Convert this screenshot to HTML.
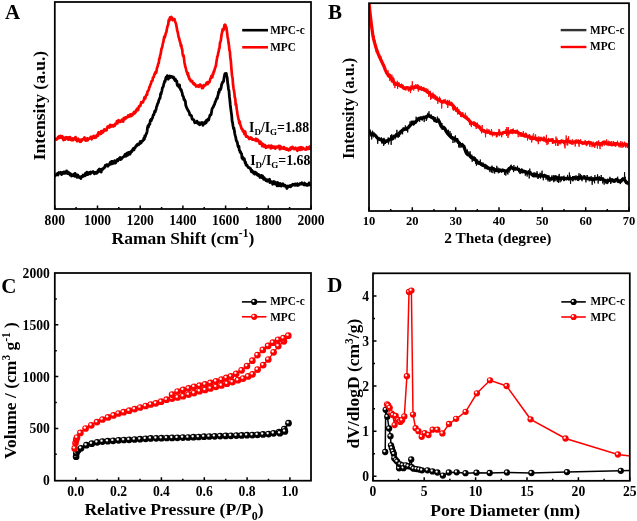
<!DOCTYPE html>
<html><head><meta charset="utf-8"><style>html,body{margin:0;padding:0;background:#fff;width:637px;height:521px;overflow:hidden}svg{display:block;will-change:transform}</style></head>
<body><svg width="637" height="521" viewBox="0 0 637 521" font-family="'Liberation Serif', serif" font-weight="bold">
<defs><radialGradient id="gk" cx="0.37" cy="0.36" r="0.36"><stop offset="0" stop-color="#fff"/><stop offset="0.22" stop-color="#fff"/><stop offset="0.72" stop-color="#000"/><stop offset="1" stop-color="#000"/></radialGradient><radialGradient id="gr" cx="0.37" cy="0.36" r="0.36"><stop offset="0" stop-color="#fff"/><stop offset="0.22" stop-color="#fff"/><stop offset="0.72" stop-color="#f00"/><stop offset="1" stop-color="#f00"/></radialGradient><clipPath id="cA"><rect x="54.8" y="2" width="256.2" height="207"/></clipPath><clipPath id="cB"><rect x="369" y="3.2" width="260" height="207.8"/></clipPath><clipPath id="cC"><rect x="54.8" y="273" width="256.2" height="207.7"/></clipPath><clipPath id="cD"><rect x="373" y="273.3" width="256.8" height="207.5"/></clipPath></defs>
<rect width="637" height="521" fill="#fff"/>
<g clip-path="url(#cA)" fill="none" stroke-linejoin="round">
<path d="M54.8,175.6 L55.2,175.8 L55.7,175.2 L56.2,174.4 L56.6,174.6 L57.1,173.8 L57.5,174.3 L58.0,175.0 L58.4,173.0 L58.9,172.5 L59.3,173.2 L59.8,173.0 L60.2,172.9 L60.7,172.3 L61.1,173.5 L61.6,174.5 L62.0,173.0 L62.5,173.9 L62.9,172.5 L63.4,172.8 L63.8,172.0 L64.3,173.2 L64.7,172.0 L65.2,173.3 L65.6,173.1 L66.1,172.9 L66.5,170.9 L67.0,172.8 L67.4,173.4 L67.9,173.6 L68.3,172.2 L68.8,173.2 L69.2,172.9 L69.7,173.3 L70.1,175.2 L70.6,173.8 L71.0,174.9 L71.5,176.0 L71.9,174.9 L72.4,175.4 L72.8,175.6 L73.3,175.5 L73.7,174.1 L74.2,175.1 L74.6,176.2 L75.1,173.5 L75.5,175.7 L76.0,175.2 L76.4,174.7 L76.9,177.3 L77.3,176.5 L77.8,175.0 L78.2,176.4 L78.7,177.1 L79.1,176.6 L79.6,177.6 L80.0,177.0 L80.5,177.8 L80.9,178.5 L81.4,176.5 L81.8,177.1 L82.3,176.3 L82.7,176.6 L83.2,175.0 L83.6,175.2 L84.1,175.2 L84.5,175.9 L85.0,175.8 L85.4,173.3 L85.9,173.6 L86.3,174.8 L86.8,172.2 L87.2,173.4 L87.7,173.5 L88.1,174.5 L88.6,173.7 L89.0,172.6 L89.5,172.3 L89.9,172.3 L90.4,173.8 L90.8,172.0 L91.3,172.1 L91.7,172.7 L92.2,172.3 L92.6,172.3 L93.1,171.6 L93.5,172.6 L94.0,172.3 L94.4,173.8 L94.9,173.3 L95.3,172.7 L95.8,173.2 L96.2,172.2 L96.7,173.3 L97.1,172.2 L97.6,172.5 L98.0,170.5 L98.5,171.7 L98.9,169.6 L99.4,169.0 L99.8,170.3 L100.3,169.6 L100.7,170.4 L101.2,172.1 L101.6,169.1 L102.1,169.1 L102.5,169.5 L103.0,169.3 L103.4,168.2 L103.9,167.6 L104.3,167.9 L104.8,167.3 L105.2,165.5 L105.7,166.1 L106.1,166.0 L106.6,164.8 L107.0,165.9 L107.5,164.7 L107.9,166.2 L108.4,165.3 L108.8,165.0 L109.3,164.2 L109.7,164.4 L110.2,162.4 L110.6,162.9 L111.1,164.0 L111.5,161.5 L112.0,163.9 L112.4,161.4 L112.9,163.4 L113.3,161.8 L113.8,163.2 L114.2,162.4 L114.7,160.7 L115.1,163.0 L115.6,163.0 L116.0,161.3 L116.5,160.8 L116.9,160.6 L117.4,159.5 L117.8,161.0 L118.3,159.2 L118.7,159.3 L119.2,158.4 L119.6,158.3 L120.1,157.5 L120.5,159.7 L121.0,158.3 L121.4,159.1 L121.9,158.1 L122.3,157.3 L122.8,157.3 L123.2,156.8 L123.7,156.9 L124.1,156.1 L124.6,155.7 L125.0,154.3 L125.5,154.4 L125.9,156.3 L126.4,153.8 L126.8,153.2 L127.3,154.3 L127.7,155.2 L128.2,152.6 L128.6,153.7 L129.1,153.3 L129.5,152.2 L130.0,154.2 L130.4,153.1 L130.9,152.6 L131.3,151.2 L131.8,151.7 L132.2,150.2 L132.7,150.0 L133.1,148.7 L133.6,148.2 L134.0,150.0 L134.5,147.9 L134.9,148.1 L135.4,147.2 L135.8,146.2 L136.3,145.5 L136.7,145.9 L137.2,144.5 L137.6,144.2 L138.1,144.1 L138.5,144.9 L139.0,144.3 L139.4,143.8 L139.9,142.6 L140.3,141.5 L140.8,143.2 L141.2,142.7 L141.7,141.2 L142.1,141.3 L142.6,140.9 L143.0,140.5 L143.5,140.0 L143.9,138.1 L144.4,139.2 L144.8,135.9 L145.3,136.7 L145.7,135.1 L146.2,134.0 L146.6,133.3 L147.1,131.5 L147.5,127.7 L148.0,126.0 L148.4,127.2 L148.9,124.5 L149.3,124.5 L149.8,124.3 L150.2,121.0 L150.7,119.7 L151.1,120.8 L151.6,119.7 L152.0,118.6 L152.5,117.9 L152.9,116.2 L153.4,114.6 L153.8,114.8 L154.3,112.9 L154.7,111.2 L155.2,111.9 L155.6,110.2 L156.1,109.4 L156.5,106.9 L157.0,105.9 L157.4,104.3 L157.9,103.1 L158.3,102.6 L158.8,100.2 L159.2,99.7 L159.7,98.1 L160.1,98.2 L160.6,93.7 L161.0,94.3 L161.5,92.1 L161.9,90.8 L162.4,88.0 L162.8,87.2 L163.3,86.6 L163.7,84.3 L164.2,82.9 L164.6,81.3 L165.1,81.5 L165.5,79.6 L166.0,77.2 L166.4,78.3 L166.9,77.0 L167.3,75.7 L167.8,77.9 L168.2,79.2 L168.7,77.7 L169.1,76.2 L169.6,76.0 L170.0,77.6 L170.5,76.5 L170.9,76.3 L171.4,76.3 L171.8,76.5 L172.3,77.4 L172.7,77.6 L173.2,77.7 L173.6,77.1 L174.1,79.1 L174.5,78.6 L175.0,80.7 L175.4,79.2 L175.9,80.7 L176.3,81.5 L176.8,81.1 L177.2,84.9 L177.7,85.6 L178.1,84.7 L178.6,86.5 L179.0,86.9 L179.5,84.9 L179.9,88.3 L180.4,88.8 L180.8,89.9 L181.3,89.9 L181.7,91.7 L182.2,93.0 L182.6,95.5 L183.1,96.1 L183.5,97.1 L184.0,99.8 L184.4,99.3 L184.9,100.8 L185.3,101.0 L185.8,105.5 L186.2,106.4 L186.7,107.7 L187.1,108.7 L187.6,109.3 L188.0,110.4 L188.5,110.9 L188.9,111.8 L189.4,112.9 L189.8,115.0 L190.3,114.9 L190.7,115.1 L191.2,115.4 L191.6,116.2 L192.1,119.0 L192.5,118.9 L193.0,119.4 L193.4,119.8 L193.9,119.9 L194.3,121.4 L194.8,122.7 L195.2,121.9 L195.7,122.2 L196.1,122.3 L196.6,122.7 L197.0,121.2 L197.5,122.6 L197.9,122.2 L198.4,124.0 L198.8,122.6 L199.3,123.9 L199.7,124.8 L200.2,123.2 L200.6,122.9 L201.1,123.6 L201.5,123.4 L202.0,122.5 L202.4,123.8 L202.9,125.3 L203.3,123.3 L203.8,123.5 L204.2,122.7 L204.7,123.8 L205.1,121.9 L205.6,121.5 L206.0,122.9 L206.5,120.2 L206.9,121.3 L207.4,121.0 L207.8,119.3 L208.3,119.1 L208.7,119.9 L209.2,117.5 L209.6,116.5 L210.1,114.9 L210.5,114.9 L211.0,114.8 L211.4,112.9 L211.9,109.7 L212.3,108.4 L212.8,107.5 L213.2,107.2 L213.7,105.7 L214.1,105.1 L214.6,104.1 L215.0,102.5 L215.5,101.5 L215.9,100.5 L216.4,99.0 L216.8,98.3 L217.3,98.4 L217.7,96.1 L218.2,94.5 L218.6,91.8 L219.1,92.6 L219.5,89.5 L220.0,88.9 L220.4,89.8 L220.9,88.5 L221.3,86.5 L221.8,83.8 L222.2,83.6 L222.7,82.0 L223.1,81.6 L223.6,81.4 L224.0,77.9 L224.5,75.4 L224.9,73.8 L225.4,74.0 L225.8,73.6 L226.3,73.4 L226.7,76.2 L227.2,77.5 L227.6,82.5 L228.1,85.7 L228.5,89.0 L229.0,91.1 L229.4,96.4 L229.9,100.6 L230.3,105.0 L230.8,109.1 L231.2,112.1 L231.7,115.7 L232.1,121.0 L232.6,122.9 L233.0,125.7 L233.5,128.5 L233.9,128.1 L234.4,130.9 L234.8,133.7 L235.3,135.9 L235.7,137.1 L236.2,140.3 L236.6,141.3 L237.1,141.7 L237.5,143.4 L238.0,146.3 L238.4,147.2 L238.9,146.2 L239.3,150.2 L239.8,150.6 L240.2,152.5 L240.7,152.1 L241.1,153.4 L241.6,153.8 L242.0,158.2 L242.5,156.8 L242.9,159.2 L243.4,158.1 L243.8,159.6 L244.3,158.8 L244.7,160.8 L245.2,163.1 L245.6,162.1 L246.1,165.2 L246.5,165.5 L247.0,165.1 L247.4,166.2 L247.9,166.8 L248.3,167.5 L248.8,167.4 L249.2,167.5 L249.7,168.4 L250.1,168.3 L250.6,168.7 L251.0,170.4 L251.5,171.9 L251.9,170.3 L252.4,172.1 L252.8,171.8 L253.3,171.7 L253.7,173.4 L254.2,172.2 L254.6,174.1 L255.1,172.1 L255.5,173.4 L256.0,173.1 L256.4,172.9 L256.9,174.5 L257.3,174.2 L257.8,175.3 L258.2,175.2 L258.7,174.6 L259.1,175.9 L259.6,176.3 L260.0,177.4 L260.5,175.8 L260.9,176.7 L261.4,175.4 L261.8,177.6 L262.3,176.3 L262.7,176.0 L263.2,178.0 L263.6,179.4 L264.1,177.5 L264.5,178.4 L265.0,179.0 L265.4,179.0 L265.9,180.6 L266.3,179.7 L266.8,179.9 L267.2,181.2 L267.7,180.0 L268.1,181.1 L268.6,179.9 L269.0,179.7 L269.5,179.2 L269.9,182.7 L270.4,181.0 L270.8,181.8 L271.3,181.9 L271.7,182.4 L272.2,182.5 L272.6,184.3 L273.1,181.8 L273.5,181.4 L274.0,181.9 L274.4,181.8 L274.9,183.8 L275.3,184.1 L275.8,182.8 L276.2,182.8 L276.7,184.0 L277.1,185.9 L277.6,182.3 L278.0,185.3 L278.5,183.9 L278.9,185.8 L279.4,183.8 L279.8,184.5 L280.3,183.4 L280.7,183.9 L281.2,186.2 L281.6,185.8 L282.1,184.8 L282.5,184.5 L283.0,183.8 L283.4,185.3 L283.9,185.8 L284.3,185.9 L284.8,186.1 L285.2,185.3 L285.7,186.4 L286.1,186.5 L286.6,187.8 L287.0,188.4 L287.5,186.7 L287.9,186.1 L288.4,186.8 L288.8,186.2 L289.3,186.1 L289.7,186.5 L290.2,185.5 L290.6,186.7 L291.1,185.8 L291.5,185.9 L292.0,185.3 L292.4,184.6 L292.9,184.2 L293.3,184.8 L293.8,184.5 L294.2,185.2 L294.7,185.0 L295.1,183.9 L295.6,185.3 L296.0,184.2 L296.5,184.9 L296.9,185.3 L297.4,183.6 L297.8,185.5 L298.3,185.3 L298.7,184.8 L299.2,184.4 L299.6,184.2 L300.1,183.4 L300.5,183.9 L301.0,183.5 L301.4,184.0 L301.9,182.8 L302.3,184.1 L302.8,184.1 L303.2,184.0 L303.7,183.8 L304.1,184.9 L304.6,183.0 L305.0,185.0 L305.5,184.9 L305.9,185.0 L306.4,185.2 L306.8,184.2 L307.3,184.5 L307.7,185.3 L308.2,185.0 L308.6,184.6 L309.1,182.9 L309.5,184.6 L310.0,185.0 L310.4,184.7 L310.9,183.9" stroke="#000" stroke-width="2.8"/>
<path d="M54.8,140.0 L55.2,138.7 L55.7,139.2 L56.2,139.4 L56.6,139.6 L57.1,138.5 L57.5,138.9 L58.0,137.2 L58.4,137.3 L58.9,136.3 L59.3,137.9 L59.8,136.7 L60.2,136.0 L60.7,136.5 L61.1,136.8 L61.6,137.9 L62.0,136.0 L62.5,136.7 L62.9,137.5 L63.4,140.1 L63.8,138.7 L64.3,137.7 L64.7,138.4 L65.2,139.5 L65.6,137.4 L66.1,137.2 L66.5,138.7 L67.0,138.0 L67.4,138.3 L67.9,137.3 L68.3,139.7 L68.8,139.7 L69.2,138.9 L69.7,139.3 L70.1,137.1 L70.6,139.8 L71.0,139.3 L71.5,140.0 L71.9,140.4 L72.4,139.5 L72.8,138.3 L73.3,140.1 L73.7,139.0 L74.2,139.2 L74.6,138.8 L75.1,138.9 L75.5,137.0 L76.0,140.1 L76.4,139.2 L76.9,140.1 L77.3,141.2 L77.8,139.8 L78.2,138.7 L78.7,140.0 L79.1,140.2 L79.6,141.1 L80.0,141.8 L80.5,139.8 L80.9,141.6 L81.4,139.6 L81.8,140.8 L82.3,140.0 L82.7,139.4 L83.2,139.3 L83.6,138.7 L84.1,138.4 L84.5,137.4 L85.0,138.8 L85.4,140.5 L85.9,140.6 L86.3,140.1 L86.8,139.6 L87.2,138.4 L87.7,140.3 L88.1,138.9 L88.6,138.8 L89.0,138.5 L89.5,138.7 L89.9,138.0 L90.4,138.0 L90.8,136.8 L91.3,137.1 L91.7,139.3 L92.2,137.0 L92.6,136.7 L93.1,137.4 L93.5,137.6 L94.0,136.0 L94.4,136.9 L94.9,137.8 L95.3,137.0 L95.8,136.5 L96.2,137.4 L96.7,135.0 L97.1,135.2 L97.6,134.3 L98.0,135.7 L98.5,132.3 L98.9,133.1 L99.4,132.9 L99.8,133.8 L100.3,133.5 L100.7,134.0 L101.2,131.2 L101.6,133.1 L102.1,132.0 L102.5,131.5 L103.0,132.4 L103.4,130.9 L103.9,129.7 L104.3,130.9 L104.8,129.5 L105.2,129.8 L105.7,130.2 L106.1,129.6 L106.6,130.2 L107.0,128.2 L107.5,126.6 L107.9,127.0 L108.4,126.7 L108.8,126.3 L109.3,127.6 L109.7,126.4 L110.2,124.8 L110.6,126.9 L111.1,125.7 L111.5,125.8 L112.0,125.3 L112.4,125.7 L112.9,125.2 L113.3,126.5 L113.8,125.9 L114.2,126.0 L114.7,125.9 L115.1,123.8 L115.6,124.4 L116.0,123.6 L116.5,123.3 L116.9,121.2 L117.4,123.4 L117.8,121.8 L118.3,120.6 L118.7,120.3 L119.2,121.7 L119.6,121.9 L120.1,121.3 L120.5,121.7 L121.0,120.7 L121.4,121.3 L121.9,119.7 L122.3,119.9 L122.8,120.4 L123.2,121.6 L123.7,118.1 L124.1,118.4 L124.6,117.9 L125.0,119.2 L125.5,117.3 L125.9,117.8 L126.4,118.1 L126.8,117.0 L127.3,116.9 L127.7,117.1 L128.2,115.3 L128.6,115.7 L129.1,116.3 L129.5,116.5 L130.0,116.0 L130.4,114.3 L130.9,115.2 L131.3,116.1 L131.8,115.6 L132.2,114.7 L132.7,113.6 L133.1,114.6 L133.6,113.0 L134.0,112.0 L134.5,111.8 L134.9,113.3 L135.4,111.7 L135.8,112.0 L136.3,109.9 L136.7,110.6 L137.2,108.6 L137.6,108.4 L138.1,110.1 L138.5,107.9 L139.0,106.2 L139.4,106.0 L139.9,105.8 L140.3,106.0 L140.8,103.9 L141.2,102.2 L141.7,102.9 L142.1,102.5 L142.6,101.9 L143.0,102.2 L143.5,100.5 L143.9,100.0 L144.4,97.4 L144.8,98.3 L145.3,98.6 L145.7,96.6 L146.2,95.3 L146.6,94.4 L147.1,94.9 L147.5,91.4 L148.0,91.1 L148.4,90.4 L148.9,89.5 L149.3,87.2 L149.8,86.7 L150.2,85.0 L150.7,84.3 L151.1,83.0 L151.6,81.0 L152.0,81.0 L152.5,80.6 L152.9,77.8 L153.4,77.3 L153.8,77.0 L154.3,74.4 L154.7,74.5 L155.2,72.3 L155.6,73.1 L156.1,72.8 L156.5,71.2 L157.0,67.8 L157.4,67.2 L157.9,65.1 L158.3,63.5 L158.8,63.0 L159.2,58.6 L159.7,58.6 L160.1,55.4 L160.6,54.5 L161.0,51.5 L161.5,48.8 L161.9,47.7 L162.4,46.2 L162.8,43.6 L163.3,42.2 L163.7,39.7 L164.2,36.6 L164.6,37.9 L165.1,36.3 L165.5,34.4 L166.0,32.7 L166.4,32.0 L166.9,29.0 L167.3,27.0 L167.8,25.4 L168.2,24.5 L168.7,20.2 L169.1,21.2 L169.6,18.6 L170.0,17.5 L170.5,19.3 L170.9,18.0 L171.4,17.0 L171.8,18.2 L172.3,19.6 L172.7,20.1 L173.2,18.8 L173.6,19.6 L174.1,20.0 L174.5,19.2 L175.0,21.1 L175.4,22.2 L175.9,23.4 L176.3,25.3 L176.8,28.0 L177.2,30.3 L177.7,32.0 L178.1,34.1 L178.6,37.1 L179.0,37.8 L179.5,39.8 L179.9,41.6 L180.4,42.7 L180.8,45.9 L181.3,44.9 L181.7,48.3 L182.2,49.4 L182.6,53.7 L183.1,56.0 L183.5,55.2 L184.0,58.4 L184.4,62.2 L184.9,64.6 L185.3,66.7 L185.8,67.9 L186.2,70.1 L186.7,71.8 L187.1,72.5 L187.6,74.8 L188.0,73.1 L188.5,76.8 L188.9,76.4 L189.4,79.3 L189.8,79.2 L190.3,79.5 L190.7,81.3 L191.2,80.7 L191.6,81.1 L192.1,80.8 L192.5,82.4 L193.0,83.2 L193.4,83.9 L193.9,83.2 L194.3,84.6 L194.8,84.1 L195.2,84.4 L195.7,85.5 L196.1,86.5 L196.6,85.7 L197.0,86.1 L197.5,86.3 L197.9,86.4 L198.4,85.3 L198.8,86.8 L199.3,85.2 L199.7,85.8 L200.2,84.6 L200.6,85.9 L201.1,86.1 L201.5,85.7 L202.0,88.1 L202.4,86.7 L202.9,87.9 L203.3,87.0 L203.8,85.2 L204.2,85.2 L204.7,85.7 L205.1,85.2 L205.6,85.0 L206.0,84.5 L206.5,82.9 L206.9,84.1 L207.4,82.1 L207.8,84.1 L208.3,82.7 L208.7,82.3 L209.2,82.2 L209.6,82.0 L210.1,79.6 L210.5,78.4 L211.0,78.0 L211.4,76.1 L211.9,76.0 L212.3,77.3 L212.8,73.9 L213.2,74.4 L213.7,71.4 L214.1,71.7 L214.6,69.7 L215.0,68.2 L215.5,66.8 L215.9,65.7 L216.4,62.1 L216.8,59.8 L217.3,56.6 L217.7,55.9 L218.2,53.0 L218.6,51.8 L219.1,48.8 L219.5,48.2 L220.0,42.6 L220.4,41.7 L220.9,40.2 L221.3,36.5 L221.8,33.6 L222.2,31.9 L222.7,29.2 L223.1,29.2 L223.6,30.1 L224.0,27.8 L224.5,25.0 L224.9,24.6 L225.4,25.0 L225.8,27.1 L226.3,27.3 L226.7,29.8 L227.2,33.6 L227.6,36.7 L228.1,39.4 L228.5,42.8 L229.0,45.9 L229.4,49.9 L229.9,51.7 L230.3,57.8 L230.8,60.5 L231.2,66.0 L231.7,72.0 L232.1,76.0 L232.6,78.2 L233.0,84.1 L233.5,88.2 L233.9,90.1 L234.4,93.3 L234.8,97.3 L235.3,99.0 L235.7,104.8 L236.2,104.2 L236.6,108.1 L237.1,111.4 L237.5,114.0 L238.0,116.7 L238.4,118.9 L238.9,120.3 L239.3,123.1 L239.8,121.5 L240.2,124.8 L240.7,125.5 L241.1,127.5 L241.6,128.7 L242.0,128.6 L242.5,129.6 L242.9,131.5 L243.4,131.5 L243.8,130.9 L244.3,133.7 L244.7,134.4 L245.2,131.7 L245.6,134.0 L246.1,136.7 L246.5,136.0 L247.0,136.2 L247.4,136.5 L247.9,136.8 L248.3,137.5 L248.8,137.6 L249.2,139.0 L249.7,138.1 L250.1,138.2 L250.6,137.5 L251.0,138.6 L251.5,137.8 L251.9,138.5 L252.4,139.7 L252.8,139.2 L253.3,139.5 L253.7,139.6 L254.2,139.5 L254.6,139.5 L255.1,139.4 L255.5,140.4 L256.0,138.7 L256.4,141.0 L256.9,139.9 L257.3,139.4 L257.8,139.9 L258.2,140.2 L258.7,141.5 L259.1,141.3 L259.6,143.6 L260.0,142.5 L260.5,141.7 L260.9,143.6 L261.4,142.9 L261.8,145.0 L262.3,146.2 L262.7,145.9 L263.2,144.1 L263.6,144.6 L264.1,146.8 L264.5,145.4 L265.0,145.2 L265.4,146.3 L265.9,147.8 L266.3,147.0 L266.8,146.2 L267.2,146.7 L267.7,147.1 L268.1,146.2 L268.6,145.8 L269.0,146.9 L269.5,145.9 L269.9,146.6 L270.4,146.6 L270.8,148.5 L271.3,145.5 L271.7,146.1 L272.2,146.2 L272.6,146.9 L273.1,147.9 L273.5,146.9 L274.0,147.0 L274.4,146.6 L274.9,147.4 L275.3,148.6 L275.8,148.0 L276.2,146.7 L276.7,147.0 L277.1,147.1 L277.6,147.4 L278.0,146.5 L278.5,147.0 L278.9,145.8 L279.4,146.7 L279.8,149.4 L280.3,146.1 L280.7,147.9 L281.2,148.5 L281.6,148.0 L282.1,147.7 L282.5,148.4 L283.0,148.6 L283.4,148.6 L283.9,147.1 L284.3,148.8 L284.8,148.2 L285.2,148.5 L285.7,149.2 L286.1,149.5 L286.6,149.7 L287.0,148.5 L287.5,149.7 L287.9,150.0 L288.4,150.0 L288.8,150.3 L289.3,148.9 L289.7,148.9 L290.2,149.8 L290.6,147.7 L291.1,149.0 L291.5,148.2 L292.0,148.3 L292.4,146.9 L292.9,147.6 L293.3,148.2 L293.8,149.0 L294.2,149.1 L294.7,148.2 L295.1,148.2 L295.6,147.8 L296.0,149.1 L296.5,148.7 L296.9,149.7 L297.4,150.8 L297.8,149.2 L298.3,147.8 L298.7,148.3 L299.2,147.6 L299.6,147.7 L300.1,149.9 L300.5,148.8 L301.0,147.2 L301.4,149.1 L301.9,149.5 L302.3,148.0 L302.8,147.7 L303.2,147.9 L303.7,148.5 L304.1,148.8 L304.6,149.3 L305.0,149.4 L305.5,149.4 L305.9,149.7 L306.4,149.1 L306.8,147.2 L307.3,148.4 L307.7,148.7 L308.2,147.9 L308.6,148.8 L309.1,147.4 L309.5,146.7 L310.0,148.7 L310.4,147.9 L310.9,147.5" stroke="#f00" stroke-width="2.7"/>
</g>
<rect x="54.8" y="2" width="256.2" height="207" fill="none" stroke="#000" stroke-width="1.75"/>
<path d="M54.8,209 V205.5 M76.1,209 V207 M97.5,209 V205.5 M118.8,209 V207 M140.2,209 V205.5 M161.6,209 V207 M182.9,209 V205.5 M204.2,209 V207 M225.6,209 V205.5 M246.9,209 V207 M268.3,209 V205.5 M289.6,209 V207 M311.0,209 V205.5" stroke="#000" stroke-width="1.5"/>
<text x="54.8" y="224.9" font-size="13.6" text-anchor="middle">800</text>
<text x="97.5" y="224.9" font-size="13.6" text-anchor="middle">1000</text>
<text x="140.2" y="224.9" font-size="13.6" text-anchor="middle">1200</text>
<text x="182.9" y="224.9" font-size="13.6" text-anchor="middle">1400</text>
<text x="225.6" y="224.9" font-size="13.6" text-anchor="middle">1600</text>
<text x="268.3" y="224.9" font-size="13.6" text-anchor="middle">1800</text>
<text x="311.0" y="224.9" font-size="13.6" text-anchor="middle">2000</text>
<text x="5" y="18.7" font-size="21">A</text>
<text transform="translate(45,105.5) rotate(-90)" font-size="17.5" text-anchor="middle">Intensity (a.u.)</text>
<text x="111.5" y="243.8" font-size="17.5">Raman Shift (cm<tspan dy="-6.5" font-size="11.5">-1</tspan><tspan dy="6.5">)</tspan></text>
<path d="M242.2,30.2 H268" stroke="#000" stroke-width="2.6"/>
<path d="M242.2,47.3 H268" stroke="#f00" stroke-width="2.6"/>
<text transform="translate(270.2,33.9) scale(1,1.13)" font-size="11.3">MPC-c</text>
<text transform="translate(270.2,50.5) scale(1,1.13)" font-size="11.3">MPC</text>
<text x="249" y="132.1" font-size="13.8">I<tspan font-size="9" dy="3">D</tspan><tspan dy="-3">/I</tspan><tspan font-size="9" dy="3">G</tspan><tspan dy="-3">=1.88</tspan></text>
<text x="250.2" y="164.7" font-size="13.8">I<tspan font-size="9" dy="3">D</tspan><tspan dy="-3">/I</tspan><tspan font-size="9" dy="3">G</tspan><tspan dy="-3">=1.68</tspan></text>
<g clip-path="url(#cB)" fill="none" stroke-linejoin="miter">
<path d="M369.0,130.7 L369.9,132.4 L370.8,133.8 L371.7,134.6 L372.6,134.7 L373.5,134.5 L374.4,134.8 L375.3,135.5 L376.2,136.5 L377.1,137.6 L378.0,138.5 L378.9,139.2 L379.8,139.5 L380.7,139.7 L381.6,139.8 L382.5,139.9 L383.4,140.1 L384.3,140.6 L385.2,141.1 L386.1,141.5 L387.0,141.3 L387.9,140.7 L388.8,139.9 L389.7,139.3 L390.6,138.9 L391.5,138.4 L392.4,137.7 L393.3,137.0 L394.2,136.4 L395.1,136.0 L396.0,135.7 L396.9,135.4 L397.8,134.9 L398.7,134.1 L399.6,133.1 L400.5,132.1 L401.4,131.1 L402.3,130.3 L403.2,129.8 L404.1,129.4 L405.0,129.1 L405.9,128.8 L406.8,128.4 L407.7,127.9 L408.6,127.2 L409.5,126.2 L410.4,125.2 L411.3,124.2 L412.2,123.5 L413.1,123.1 L414.0,122.7 L414.9,122.3 L415.8,121.7 L416.7,120.9 L417.6,119.8 L418.5,118.9 L419.4,118.4 L420.3,118.3 L421.2,118.3 L422.1,118.2 L423.0,118.0 L423.9,117.6 L424.8,117.3 L425.7,116.9 L426.6,116.5 L427.5,116.1 L428.4,115.8 L429.3,115.9 L430.2,116.4 L431.1,117.0 L432.0,117.5 L432.9,117.9 L433.8,118.6 L434.7,119.7 L435.6,120.8 L436.5,121.3 L437.4,121.1 L438.3,120.9 L439.2,121.6 L440.1,123.7 L441.0,126.0 L441.9,127.2 L442.8,127.4 L443.7,127.4 L444.6,128.2 L445.5,129.8 L446.4,131.6 L447.3,133.0 L448.2,134.1 L449.1,135.1 L450.0,136.1 L450.9,136.9 L451.8,137.6 L452.7,138.2 L453.6,138.5 L454.5,138.8 L455.4,139.0 L456.3,139.5 L457.2,140.5 L458.1,141.8 L459.0,143.0 L459.9,144.0 L460.8,144.6 L461.7,144.9 L462.6,145.2 L463.5,146.0 L464.4,147.8 L465.3,150.3 L466.2,152.6 L467.1,153.9 L468.0,154.3 L468.9,154.7 L469.8,155.7 L470.7,157.0 L471.6,157.8 L472.5,158.0 L473.4,157.9 L474.3,158.3 L475.2,159.4 L476.1,160.7 L477.0,161.7 L477.9,162.3 L478.8,162.7 L479.7,163.3 L480.6,164.0 L481.5,164.6 L482.4,165.1 L483.3,165.4 L484.2,165.7 L485.1,166.0 L486.0,166.3 L486.9,166.9 L487.8,167.6 L488.7,168.2 L489.6,168.4 L490.5,168.3 L491.4,168.2 L492.3,168.3 L493.2,168.7 L494.1,169.3 L495.0,170.0 L495.9,170.5 L496.8,170.6 L497.7,170.4 L498.6,170.1 L499.5,170.0 L500.4,170.2 L501.3,170.5 L502.2,170.5 L503.1,170.4 L504.0,170.5 L504.9,170.8 L505.8,171.0 L506.7,170.9 L507.6,170.3 L508.5,169.5 L509.4,168.6 L510.3,167.9 L511.2,167.7 L512.1,167.9 L513.0,168.5 L513.9,169.0 L514.8,169.1 L515.7,168.9 L516.6,168.8 L517.5,169.0 L518.4,169.5 L519.3,170.2 L520.2,171.0 L521.1,171.6 L522.0,171.7 L522.9,171.5 L523.8,171.3 L524.7,171.6 L525.6,172.2 L526.5,172.7 L527.4,172.8 L528.3,172.7 L529.2,172.8 L530.1,173.2 L531.0,173.8 L531.9,174.6 L532.8,175.3 L533.7,175.7 L534.6,175.6 L535.5,175.1 L536.4,174.8 L537.3,175.0 L538.2,175.6 L539.1,175.9 L540.0,176.0 L540.9,175.8 L541.8,175.7 L542.7,175.8 L543.6,175.9 L544.5,176.0 L545.4,176.0 L546.3,176.2 L547.2,176.7 L548.1,177.5 L549.0,178.2 L549.9,178.8 L550.8,179.0 L551.7,179.0 L552.6,178.8 L553.5,178.4 L554.4,178.0 L555.3,177.6 L556.2,177.5 L557.1,177.8 L558.0,178.2 L558.9,178.5 L559.8,178.4 L560.7,178.1 L561.6,177.9 L562.5,178.1 L563.4,178.5 L564.3,178.7 L565.2,178.6 L566.1,178.4 L567.0,178.3 L567.9,178.2 L568.8,178.3 L569.7,178.4 L570.6,178.6 L571.5,178.5 L572.4,178.3 L573.3,178.0 L574.2,177.8 L575.1,177.9 L576.0,178.0 L576.9,177.9 L577.8,177.6 L578.7,177.3 L579.6,177.4 L580.5,177.9 L581.4,178.2 L582.3,178.1 L583.2,177.9 L584.1,177.8 L585.0,178.1 L585.9,178.5 L586.8,178.7 L587.7,178.6 L588.6,178.4 L589.5,178.4 L590.4,178.7 L591.3,179.1 L592.2,179.4 L593.1,179.6 L594.0,179.5 L594.9,179.1 L595.8,178.7 L596.7,178.5 L597.6,178.6 L598.5,178.9 L599.4,179.0 L600.3,179.0 L601.2,179.0 L602.1,179.2 L603.0,179.6 L603.9,180.1 L604.8,180.5 L605.7,180.8 L606.6,180.9 L607.5,180.9 L608.4,180.7 L609.3,180.4 L610.2,180.0 L611.1,179.8 L612.0,180.2 L612.9,180.8 L613.8,181.2 L614.7,180.8 L615.6,179.9 L616.5,179.5 L617.4,180.0 L618.3,180.9 L619.2,181.5 L620.1,181.4 L621.0,180.8 L621.9,179.9 L622.8,179.2 L623.7,179.1 L624.6,179.9 L625.5,181.3 L626.4,182.5 L627.3,183.0 L628.2,182.7" stroke="#000" stroke-width="3.3"/>
<path d="M369.0,131.1 L369.3,130.9 L369.6,132.1 L369.9,129.3 L370.2,131.5 L370.5,134.4 L370.8,134.3 L371.1,136.7 L371.4,134.6 L371.7,139.5 L372.0,133.2 L372.3,135.3 L372.6,130.7 L372.9,132.0 L373.2,137.4 L373.5,132.6 L373.8,135.7 L374.1,134.5 L374.4,132.6 L374.7,134.2 L375.0,134.1 L375.3,134.5 L375.6,137.4 L375.9,137.5 L376.2,135.3 L376.5,135.0 L376.8,137.9 L377.1,137.4 L377.4,140.1 L377.7,143.8 L378.0,140.3 L378.3,138.7 L378.6,138.6 L378.9,137.4 L379.2,137.4 L379.5,137.3 L379.8,138.7 L380.1,138.7 L380.4,141.2 L380.7,138.9 L381.0,139.3 L381.3,137.2 L381.6,143.2 L381.9,140.9 L382.2,143.6 L382.5,141.6 L382.8,143.1 L383.1,139.5 L383.4,141.6 L383.7,145.9 L384.0,137.8 L384.3,143.0 L384.6,144.3 L384.9,141.8 L385.2,142.7 L385.5,143.9 L385.8,140.0 L386.1,142.3 L386.4,139.6 L386.7,140.0 L387.0,140.0 L387.3,140.8 L387.6,141.2 L387.9,141.7 L388.2,137.4 L388.5,144.4 L388.8,142.4 L389.1,141.3 L389.4,138.7 L389.7,139.1 L390.0,140.4 L390.3,140.0 L390.6,135.3 L390.9,140.4 L391.2,144.9 L391.5,134.4 L391.8,140.3 L392.1,138.7 L392.4,137.5 L392.7,140.4 L393.0,134.7 L393.3,137.3 L393.6,139.9 L393.9,136.1 L394.2,135.5 L394.5,136.5 L394.8,135.1 L395.1,139.3 L395.4,133.9 L395.7,137.7 L396.0,133.0 L396.3,137.1 L396.6,135.3 L396.9,129.8 L397.2,135.2 L397.5,132.8 L397.8,133.9 L398.1,137.9 L398.4,132.0 L398.7,131.8 L399.0,136.9 L399.3,133.7 L399.6,136.4 L399.9,133.5 L400.2,130.5 L400.5,131.9 L400.8,134.4 L401.1,133.4 L401.4,131.1 L401.7,130.9 L402.0,130.3 L402.3,129.1 L402.6,134.3 L402.9,129.9 L403.2,127.3 L403.5,128.6 L403.8,131.1 L404.1,130.8 L404.4,129.0 L404.7,127.7 L405.0,129.1 L405.3,125.4 L405.6,126.1 L405.9,130.5 L406.2,127.6 L406.5,129.4 L406.8,131.0 L407.1,129.7 L407.4,128.1 L407.7,132.5 L408.0,129.1 L408.3,126.7 L408.6,128.7 L408.9,127.8 L409.2,124.7 L409.5,126.4 L409.8,125.5 L410.1,121.3 L410.4,124.8 L410.7,124.2 L411.0,123.6 L411.3,120.7 L411.6,123.2 L411.9,123.6 L412.2,123.8 L412.5,120.9 L412.8,124.6 L413.1,120.5 L413.4,122.5 L413.7,125.7 L414.0,121.2 L414.3,121.5 L414.6,124.8 L414.9,121.5 L415.2,121.5 L415.5,122.4 L415.8,124.0 L416.1,116.7 L416.4,119.4 L416.7,118.7 L417.0,118.2 L417.3,118.3 L417.6,118.0 L417.9,120.2 L418.2,117.3 L418.5,119.2 L418.8,119.5 L419.1,116.9 L419.4,118.7 L419.7,121.8 L420.0,119.0 L420.3,116.9 L420.6,118.2 L420.9,116.3 L421.2,118.9 L421.5,120.2 L421.8,116.5 L422.1,117.8 L422.4,120.5 L422.7,117.0 L423.0,118.4 L423.3,115.7 L423.6,116.0 L423.9,116.5 L424.2,122.1 L424.5,116.5 L424.8,116.1 L425.1,115.9 L425.4,116.7 L425.7,118.3 L426.0,117.2 L426.3,121.0 L426.6,117.0 L426.9,119.4 L427.2,116.8 L427.5,117.4 L427.8,112.9 L428.1,115.6 L428.4,115.6 L428.7,115.3 L429.0,111.3 L429.3,117.7 L429.6,115.2 L429.9,115.3 L430.2,115.8 L430.5,116.1 L430.8,117.7 L431.1,114.4 L431.4,115.3 L431.7,118.0 L432.0,117.8 L432.3,116.9 L432.6,116.6 L432.9,116.2 L433.2,118.0 L433.5,120.8 L433.8,116.4 L434.1,122.1 L434.4,121.1 L434.7,118.7 L435.0,121.7 L435.3,117.4 L435.6,117.1 L435.9,118.3 L436.2,120.4 L436.5,120.6 L436.8,120.2 L437.1,121.4 L437.4,116.6 L437.7,122.0 L438.0,117.9 L438.3,119.5 L438.6,120.1 L438.9,118.8 L439.2,118.7 L439.5,120.1 L439.8,122.9 L440.1,124.9 L440.4,125.7 L440.7,123.2 L441.0,124.3 L441.3,124.6 L441.6,127.9 L441.9,123.0 L442.2,130.0 L442.5,126.4 L442.8,125.7 L443.1,128.1 L443.4,129.5 L443.7,128.1 L444.0,129.7 L444.3,128.1 L444.6,130.8 L444.9,131.3 L445.2,129.0 L445.5,132.8 L445.8,130.7 L446.1,131.2 L446.4,129.6 L446.7,131.5 L447.0,134.2 L447.3,130.3 L447.6,134.8 L447.9,134.5 L448.2,134.7 L448.5,129.8 L448.8,134.6 L449.1,136.5 L449.4,133.8 L449.7,135.9 L450.0,131.1 L450.3,137.8 L450.6,135.2 L450.9,138.7 L451.2,133.3 L451.5,138.8 L451.8,137.1 L452.1,139.5 L452.4,136.0 L452.7,136.9 L453.0,143.0 L453.3,136.7 L453.6,137.1 L453.9,138.1 L454.2,136.6 L454.5,141.3 L454.8,142.5 L455.1,137.4 L455.4,135.4 L455.7,141.6 L456.0,141.6 L456.3,141.2 L456.6,142.2 L456.9,138.3 L457.2,140.1 L457.5,138.0 L457.8,138.4 L458.1,143.8 L458.4,140.8 L458.7,147.4 L459.0,143.2 L459.3,142.0 L459.6,145.4 L459.9,147.8 L460.2,145.2 L460.5,141.9 L460.8,145.4 L461.1,147.6 L461.4,143.8 L461.7,143.3 L462.0,147.1 L462.3,145.4 L462.6,142.9 L462.9,144.6 L463.2,144.1 L463.5,146.7 L463.8,146.7 L464.1,149.5 L464.4,149.3 L464.7,145.3 L465.0,150.3 L465.3,152.2 L465.6,152.1 L465.9,154.1 L466.2,151.4 L466.5,151.2 L466.8,155.5 L467.1,151.6 L467.4,149.5 L467.7,156.3 L468.0,152.8 L468.3,153.7 L468.6,151.5 L468.9,151.9 L469.2,152.5 L469.5,154.5 L469.8,156.4 L470.1,151.3 L470.4,158.1 L470.7,154.5 L471.0,155.1 L471.3,159.1 L471.6,157.7 L471.9,154.7 L472.2,161.9 L472.5,156.2 L472.8,158.4 L473.1,158.3 L473.4,160.8 L473.7,157.0 L474.0,160.2 L474.3,156.7 L474.6,160.9 L474.9,157.3 L475.2,158.6 L475.5,163.8 L475.8,160.9 L476.1,160.9 L476.4,165.8 L476.7,162.2 L477.0,160.0 L477.3,163.5 L477.6,159.6 L477.9,164.7 L478.2,165.0 L478.5,161.4 L478.8,161.4 L479.1,163.3 L479.4,163.1 L479.7,161.3 L480.0,164.7 L480.3,159.5 L480.6,163.1 L480.9,163.4 L481.2,163.8 L481.5,165.3 L481.8,162.2 L482.1,166.2 L482.4,164.7 L482.7,163.9 L483.0,162.5 L483.3,163.0 L483.6,166.3 L483.9,163.6 L484.2,165.8 L484.5,168.0 L484.8,168.0 L485.1,169.2 L485.4,165.4 L485.7,163.9 L486.0,168.4 L486.3,167.1 L486.6,169.0 L486.9,166.9 L487.2,169.6 L487.5,169.1 L487.8,169.1 L488.1,168.9 L488.4,168.9 L488.7,168.7 L489.0,168.8 L489.3,170.5 L489.6,167.4 L489.9,172.1 L490.2,168.2 L490.5,170.4 L490.8,168.1 L491.1,167.7 L491.4,172.5 L491.7,167.6 L492.0,165.6 L492.3,166.8 L492.6,167.8 L492.9,173.1 L493.2,169.2 L493.5,170.9 L493.8,167.0 L494.1,170.1 L494.4,171.0 L494.7,173.6 L495.0,168.6 L495.3,171.5 L495.6,171.0 L495.9,168.4 L496.2,170.6 L496.5,170.1 L496.8,165.8 L497.1,171.8 L497.4,171.6 L497.7,169.5 L498.0,167.5 L498.3,173.3 L498.6,170.6 L498.9,172.2 L499.2,173.0 L499.5,168.9 L499.8,171.8 L500.1,169.6 L500.4,170.1 L500.7,170.1 L501.0,170.4 L501.3,172.8 L501.6,170.8 L501.9,170.2 L502.2,169.9 L502.5,171.2 L502.8,168.6 L503.1,169.4 L503.4,170.3 L503.7,169.3 L504.0,170.3 L504.3,169.3 L504.6,174.9 L504.9,173.6 L505.2,171.9 L505.5,170.9 L505.8,175.6 L506.1,171.7 L506.4,170.8 L506.7,171.5 L507.0,171.4 L507.3,173.5 L507.6,170.3 L507.9,174.5 L508.2,167.9 L508.5,171.0 L508.8,167.1 L509.1,172.7 L509.4,168.0 L509.7,168.3 L510.0,170.1 L510.3,170.6 L510.6,165.5 L510.9,167.0 L511.2,164.7 L511.5,168.0 L511.8,167.6 L512.1,167.2 L512.4,166.7 L512.7,167.5 L513.0,167.0 L513.3,169.8 L513.6,172.1 L513.9,165.0 L514.2,168.9 L514.5,168.3 L514.8,170.1 L515.1,167.1 L515.4,168.7 L515.7,166.8 L516.0,170.3 L516.3,169.1 L516.6,168.5 L516.9,169.7 L517.2,168.4 L517.5,165.8 L517.8,170.4 L518.1,169.9 L518.4,169.2 L518.7,171.8 L519.0,172.5 L519.3,167.9 L519.6,168.9 L519.9,174.0 L520.2,174.0 L520.5,169.7 L520.8,168.9 L521.1,170.2 L521.4,170.6 L521.7,168.4 L522.0,171.7 L522.3,168.9 L522.6,169.0 L522.9,173.4 L523.2,169.9 L523.5,171.2 L523.8,172.6 L524.1,173.1 L524.4,170.7 L524.7,171.7 L525.0,170.1 L525.3,175.7 L525.6,173.6 L525.9,170.1 L526.2,172.6 L526.5,174.2 L526.8,173.8 L527.1,176.6 L527.4,175.7 L527.7,171.6 L528.0,172.6 L528.3,170.0 L528.6,173.2 L528.9,173.1 L529.2,178.5 L529.5,173.1 L529.8,168.6 L530.1,171.8 L530.4,173.6 L530.7,171.0 L531.0,172.0 L531.3,173.3 L531.6,175.0 L531.9,174.2 L532.2,173.0 L532.5,176.7 L532.8,174.2 L533.1,174.4 L533.4,172.7 L533.7,174.1 L534.0,177.1 L534.3,172.3 L534.6,175.4 L534.9,177.0 L535.2,174.5 L535.5,175.6 L535.8,172.7 L536.1,177.6 L536.4,177.2 L536.7,175.3 L537.0,171.2 L537.3,172.8 L537.6,177.3 L537.9,179.0 L538.2,176.2 L538.5,178.3 L538.8,174.6 L539.1,175.5 L539.4,176.0 L539.7,176.9 L540.0,172.7 L540.3,177.9 L540.6,178.6 L540.9,173.4 L541.2,172.9 L541.5,176.4 L541.8,174.3 L542.1,170.7 L542.4,177.4 L542.7,176.1 L543.0,174.8 L543.3,180.3 L543.6,176.2 L543.9,174.4 L544.2,176.2 L544.5,173.8 L544.8,174.4 L545.1,176.8 L545.4,174.8 L545.7,175.1 L546.0,179.6 L546.3,178.0 L546.6,178.0 L546.9,177.6 L547.2,177.8 L547.5,180.0 L547.8,177.2 L548.1,181.4 L548.4,175.8 L548.7,177.5 L549.0,175.4 L549.3,177.7 L549.6,179.7 L549.9,181.8 L550.2,177.5 L550.5,179.0 L550.8,178.3 L551.1,177.5 L551.4,176.6 L551.7,179.2 L552.0,175.3 L552.3,179.1 L552.6,178.8 L552.9,177.3 L553.2,176.4 L553.5,175.5 L553.8,182.2 L554.1,175.3 L554.4,181.2 L554.7,179.1 L555.0,177.0 L555.3,175.2 L555.6,179.8 L555.9,181.2 L556.2,175.6 L556.5,177.0 L556.8,179.9 L557.1,178.5 L557.4,182.1 L557.7,176.9 L558.0,179.4 L558.3,175.7 L558.6,182.9 L558.9,177.0 L559.2,173.9 L559.5,178.2 L559.8,178.1 L560.1,182.3 L560.4,177.5 L560.7,178.1 L561.0,179.2 L561.3,181.3 L561.6,177.8 L561.9,180.1 L562.2,179.1 L562.5,177.5 L562.8,178.4 L563.1,178.4 L563.4,176.5 L563.7,181.1 L564.0,175.7 L564.3,181.1 L564.6,180.7 L564.9,178.4 L565.2,177.0 L565.5,178.1 L565.8,179.5 L566.1,180.0 L566.4,178.9 L566.7,180.4 L567.0,177.1 L567.3,178.7 L567.6,174.9 L567.9,179.8 L568.2,178.6 L568.5,177.4 L568.8,180.7 L569.1,179.8 L569.4,172.5 L569.7,178.5 L570.0,175.4 L570.3,180.8 L570.6,183.8 L570.9,177.5 L571.2,178.7 L571.5,178.0 L571.8,179.2 L572.1,179.7 L572.4,181.0 L572.7,176.1 L573.0,181.4 L573.3,176.0 L573.6,178.5 L573.9,180.3 L574.2,179.3 L574.5,175.9 L574.8,176.4 L575.1,177.0 L575.4,177.9 L575.7,180.4 L576.0,175.3 L576.3,179.0 L576.6,179.3 L576.9,179.1 L577.2,178.8 L577.5,180.9 L577.8,178.6 L578.1,179.2 L578.4,178.5 L578.7,181.1 L579.0,173.3 L579.3,180.0 L579.6,176.9 L579.9,177.0 L580.2,175.7 L580.5,173.9 L580.8,177.2 L581.1,176.7 L581.4,179.2 L581.7,175.1 L582.0,181.2 L582.3,178.7 L582.6,177.5 L582.9,176.4 L583.2,176.2 L583.5,175.4 L583.8,176.6 L584.1,177.8 L584.4,177.5 L584.7,175.0 L585.0,177.5 L585.3,176.4 L585.6,178.7 L585.9,182.4 L586.2,179.9 L586.5,178.0 L586.8,175.3 L587.1,175.7 L587.4,175.1 L587.7,180.1 L588.0,176.9 L588.3,178.6 L588.6,177.1 L588.9,178.6 L589.2,181.3 L589.5,177.0 L589.8,177.8 L590.1,176.9 L590.4,180.5 L590.7,176.7 L591.0,176.6 L591.3,176.1 L591.6,176.2 L591.9,180.3 L592.2,184.8 L592.5,177.4 L592.8,181.5 L593.1,180.1 L593.4,177.3 L593.7,179.0 L594.0,179.0 L594.3,177.9 L594.6,183.3 L594.9,175.1 L595.2,179.8 L595.5,179.5 L595.8,177.5 L596.1,178.9 L596.4,180.3 L596.7,178.8 L597.0,179.4 L597.3,180.0 L597.6,174.3 L597.9,181.8 L598.2,183.6 L598.5,180.9 L598.8,181.1 L599.1,176.0 L599.4,178.8 L599.7,177.3 L600.0,177.8 L600.3,181.0 L600.6,177.3 L600.9,178.7 L601.2,175.0 L601.5,178.7 L601.8,179.3 L602.1,177.7 L602.4,177.8 L602.7,183.4 L603.0,177.1 L603.3,177.6 L603.6,178.3 L603.9,182.6 L604.2,184.7 L604.5,181.1 L604.8,179.0 L605.1,179.7 L605.4,182.9 L605.7,178.9 L606.0,183.9 L606.3,183.8 L606.6,181.0 L606.9,182.3 L607.2,182.5 L607.5,184.1 L607.8,178.6 L608.1,183.3 L608.4,179.9 L608.7,179.0 L609.0,180.7 L609.3,179.9 L609.6,178.2 L609.9,176.8 L610.2,178.0 L610.5,183.0 L610.8,184.0 L611.1,181.2 L611.4,182.4 L611.7,178.9 L612.0,180.0 L612.3,181.0 L612.6,178.3 L612.9,178.7 L613.2,181.2 L613.5,180.5 L613.8,178.9 L614.1,181.9 L614.4,180.4 L614.7,182.9 L615.0,180.5 L615.3,179.6 L615.6,180.2 L615.9,179.4 L616.2,178.2 L616.5,178.7 L616.8,181.2 L617.1,181.1 L617.4,182.7 L617.7,176.7 L618.0,179.8 L618.3,180.1 L618.6,181.6 L618.9,180.5 L619.2,180.5 L619.5,183.2 L619.8,181.9 L620.1,179.0 L620.4,184.1 L620.7,183.1 L621.0,179.6 L621.3,182.3 L621.6,178.7 L621.9,182.3 L622.2,179.2 L622.5,177.7 L622.8,178.4 L623.1,177.5 L623.4,179.4 L623.7,179.4 L624.0,179.3 L624.3,178.3 L624.6,172.2 L624.9,180.5 L625.2,176.8 L625.5,181.8 L625.8,184.1 L626.1,182.8 L626.4,181.7 L626.7,182.4 L627.0,182.7 L627.3,181.8 L627.6,181.7 L627.9,180.9 L628.2,185.2 L628.5,182.5 L628.8,184.3" stroke="#000" stroke-width="0.9"/>
<path d="M369.1,3.8 L370.0,12.6 L370.9,20.5 L371.8,27.6 L372.7,34.2 L373.6,38.8 L374.5,42.4 L375.4,45.6 L376.3,48.6 L377.2,51.2 L378.1,53.6 L379.0,55.8 L379.9,57.9 L380.8,59.8 L381.7,61.6 L382.6,63.4 L383.5,65.3 L384.4,67.4 L385.3,69.8 L386.2,71.9 L387.1,73.6 L388.0,74.6 L388.9,75.5 L389.8,76.5 L390.7,77.6 L391.6,78.9 L392.5,80.3 L393.4,81.6 L394.3,82.7 L395.2,83.4 L396.1,83.9 L397.0,84.3 L397.9,84.9 L398.8,85.2 L399.7,85.4 L400.6,85.5 L401.5,85.9 L402.4,86.7 L403.3,87.7 L404.2,88.4 L405.1,88.3 L406.0,88.0 L406.9,87.7 L407.8,87.8 L408.7,88.1 L409.6,88.1 L410.5,88.0 L411.4,87.8 L412.3,87.5 L413.2,87.2 L414.1,87.0 L415.0,86.8 L415.9,86.9 L416.8,87.1 L417.7,87.6 L418.6,88.0 L419.5,88.4 L420.4,88.5 L421.3,88.6 L422.2,88.8 L423.1,89.2 L424.0,89.7 L424.9,90.3 L425.8,90.8 L426.7,91.4 L427.6,91.8 L428.5,92.4 L429.4,93.1 L430.3,94.0 L431.2,94.8 L432.1,95.2 L433.0,95.4 L433.9,95.7 L434.8,96.5 L435.7,97.6 L436.6,98.5 L437.5,99.1 L438.4,99.4 L439.3,99.9 L440.2,100.7 L441.1,101.5 L442.0,102.0 L442.9,102.0 L443.8,101.9 L444.7,101.9 L445.6,102.0 L446.5,102.4 L447.4,103.0 L448.3,103.5 L449.2,103.8 L450.1,103.7 L451.0,103.7 L451.9,104.2 L452.8,105.5 L453.7,107.0 L454.6,108.2 L455.5,109.0 L456.4,109.8 L457.3,110.7 L458.2,111.7 L459.1,112.6 L460.0,113.4 L460.9,113.9 L461.8,114.5 L462.7,115.2 L463.6,116.0 L464.5,116.7 L465.4,117.3 L466.3,117.9 L467.2,118.6 L468.1,119.4 L469.0,120.3 L469.9,121.4 L470.8,122.4 L471.7,123.0 L472.6,123.2 L473.5,123.2 L474.4,123.6 L475.3,124.4 L476.2,125.2 L477.1,125.8 L478.0,126.1 L478.9,126.5 L479.8,127.5 L480.7,128.8 L481.6,130.0 L482.5,130.6 L483.4,130.9 L484.3,131.2 L485.2,131.6 L486.1,131.9 L487.0,132.1 L487.9,132.0 L488.8,132.0 L489.7,132.3 L490.6,132.9 L491.5,133.4 L492.4,133.5 L493.3,133.5 L494.2,133.5 L495.1,133.6 L496.0,133.7 L496.9,133.8 L497.8,133.7 L498.7,133.7 L499.6,133.7 L500.5,133.7 L501.4,133.6 L502.3,133.2 L503.2,132.7 L504.1,132.3 L505.0,132.3 L505.9,132.5 L506.8,132.7 L507.7,132.6 L508.6,132.3 L509.5,132.0 L510.4,131.8 L511.3,131.7 L512.2,131.7 L513.1,131.8 L514.0,131.8 L514.9,131.6 L515.8,131.5 L516.7,131.7 L517.6,132.2 L518.5,132.9 L519.4,133.5 L520.3,133.7 L521.2,134.0 L522.1,134.4 L523.0,134.9 L523.9,135.5 L524.8,135.9 L525.7,136.2 L526.6,136.2 L527.5,136.2 L528.4,136.2 L529.3,136.7 L530.2,137.6 L531.1,138.4 L532.0,138.7 L532.9,138.4 L533.8,138.1 L534.7,138.2 L535.6,138.8 L536.5,139.5 L537.4,139.9 L538.3,140.0 L539.2,139.8 L540.1,139.4 L541.0,139.1 L541.9,139.0 L542.8,139.2 L543.7,139.5 L544.6,139.9 L545.5,140.1 L546.4,140.2 L547.3,140.3 L548.2,140.4 L549.1,140.3 L550.0,140.2 L550.9,140.2 L551.8,140.4 L552.7,140.9 L553.6,141.5 L554.5,141.7 L555.4,141.5 L556.3,141.3 L557.2,141.3 L558.1,141.5 L559.0,141.7 L559.9,141.7 L560.8,141.4 L561.7,141.4 L562.6,141.5 L563.5,141.8 L564.4,141.9 L565.3,141.6 L566.2,141.4 L567.1,141.3 L568.0,141.5 L568.9,141.7 L569.8,142.0 L570.7,142.2 L571.6,142.2 L572.5,142.2 L573.4,142.1 L574.3,142.0 L575.2,141.9 L576.1,141.9 L577.0,141.8 L577.9,141.6 L578.8,141.6 L579.7,141.8 L580.6,142.2 L581.5,142.5 L582.4,142.8 L583.3,142.9 L584.2,142.9 L585.1,142.9 L586.0,142.8 L586.9,142.7 L587.8,142.6 L588.7,142.6 L589.6,142.7 L590.5,142.9 L591.4,143.4 L592.3,144.0 L593.2,144.6 L594.1,144.8 L595.0,144.3 L595.9,143.6 L596.8,143.1 L597.7,143.1 L598.6,143.4 L599.5,143.8 L600.4,144.0 L601.3,143.8 L602.2,143.2 L603.1,142.4 L604.0,142.0 L604.9,142.4 L605.8,143.2 L606.7,143.7 L607.6,143.6 L608.5,143.3 L609.4,143.4 L610.3,143.9 L611.2,144.5 L612.1,144.7 L613.0,144.4 L613.9,143.9 L614.8,143.6 L615.7,143.6 L616.6,143.7 L617.5,143.9 L618.4,144.1 L619.3,144.3 L620.2,144.5 L621.1,144.7 L622.0,144.7 L622.9,144.6 L623.8,144.5 L624.7,144.6 L625.6,144.9 L626.5,145.1 L627.4,145.0 L628.3,144.8" stroke="#f00" stroke-width="3.3"/>
<path d="M369.1,5.5 L369.4,11.0 L369.7,11.3 L370.0,13.2 L370.3,17.8 L370.6,20.1 L370.9,24.0 L371.2,25.2 L371.5,25.0 L371.8,28.2 L372.1,30.4 L372.4,32.8 L372.7,34.6 L373.0,34.2 L373.3,33.0 L373.6,37.4 L373.9,35.8 L374.2,41.4 L374.5,42.4 L374.8,40.0 L375.1,46.0 L375.4,47.5 L375.7,46.9 L376.0,51.1 L376.3,52.5 L376.6,47.0 L376.9,52.5 L377.2,52.1 L377.5,52.9 L377.8,54.8 L378.1,52.1 L378.4,53.1 L378.7,53.4 L379.0,54.2 L379.3,56.3 L379.6,54.2 L379.9,55.7 L380.2,59.8 L380.5,59.0 L380.8,60.6 L381.1,56.5 L381.4,59.4 L381.7,60.5 L382.0,62.3 L382.3,61.6 L382.6,65.4 L382.9,63.9 L383.2,64.7 L383.5,65.3 L383.8,67.4 L384.1,65.7 L384.4,69.8 L384.7,69.2 L385.0,69.3 L385.3,69.9 L385.6,71.6 L385.9,73.4 L386.2,73.9 L386.5,73.4 L386.8,74.9 L387.1,73.8 L387.4,76.6 L387.7,74.3 L388.0,70.3 L388.3,77.7 L388.6,75.4 L388.9,73.0 L389.2,75.4 L389.5,74.3 L389.8,80.9 L390.1,77.9 L390.4,73.9 L390.7,78.7 L391.0,77.1 L391.3,82.4 L391.6,76.6 L391.9,74.6 L392.2,79.9 L392.5,79.5 L392.8,79.8 L393.1,76.7 L393.4,82.5 L393.7,85.5 L394.0,78.3 L394.3,85.1 L394.6,81.7 L394.9,88.1 L395.2,84.3 L395.5,83.2 L395.8,86.0 L396.1,85.0 L396.4,82.8 L396.7,85.7 L397.0,83.3 L397.3,80.8 L397.6,89.0 L397.9,84.1 L398.2,83.7 L398.5,85.8 L398.8,82.0 L399.1,82.5 L399.4,84.3 L399.7,84.3 L400.0,85.6 L400.3,87.8 L400.6,84.5 L400.9,86.6 L401.2,87.0 L401.5,83.6 L401.8,86.6 L402.1,84.4 L402.4,88.9 L402.7,88.0 L403.0,87.4 L403.3,84.9 L403.6,88.3 L403.9,86.6 L404.2,89.9 L404.5,88.2 L404.8,86.7 L405.1,90.3 L405.4,89.7 L405.7,86.8 L406.0,90.4 L406.3,87.2 L406.6,87.1 L406.9,88.0 L407.2,86.2 L407.5,86.8 L407.8,87.5 L408.1,91.1 L408.4,91.1 L408.7,87.5 L409.0,91.5 L409.3,88.0 L409.6,88.9 L409.9,90.0 L410.2,88.7 L410.5,93.1 L410.8,88.4 L411.1,85.3 L411.4,90.5 L411.7,86.8 L412.0,86.9 L412.3,81.2 L412.6,89.5 L412.9,89.0 L413.2,88.9 L413.5,89.2 L413.8,90.6 L414.1,86.9 L414.4,88.9 L414.7,85.3 L415.0,86.1 L415.3,89.0 L415.6,87.6 L415.9,84.1 L416.2,87.7 L416.5,86.6 L416.8,85.4 L417.1,88.2 L417.4,86.5 L417.7,84.3 L418.0,85.4 L418.3,91.6 L418.6,84.9 L418.9,88.6 L419.2,89.6 L419.5,89.7 L419.8,85.9 L420.1,87.8 L420.4,88.8 L420.7,90.2 L421.0,87.2 L421.3,86.1 L421.6,90.7 L421.9,91.0 L422.2,89.6 L422.5,87.7 L422.8,89.9 L423.1,89.5 L423.4,91.1 L423.7,86.9 L424.0,90.0 L424.3,89.6 L424.6,87.8 L424.9,90.7 L425.2,90.6 L425.5,89.8 L425.8,91.7 L426.1,88.0 L426.4,91.1 L426.7,92.3 L427.0,92.1 L427.3,93.9 L427.6,89.3 L427.9,88.8 L428.2,92.7 L428.5,93.3 L428.8,97.0 L429.1,94.1 L429.4,91.3 L429.7,95.1 L430.0,91.9 L430.3,90.9 L430.6,99.8 L430.9,95.2 L431.2,96.3 L431.5,96.2 L431.8,98.9 L432.1,95.8 L432.4,97.9 L432.7,93.2 L433.0,92.5 L433.3,98.5 L433.6,98.7 L433.9,96.8 L434.2,96.4 L434.5,96.5 L434.8,95.0 L435.1,100.1 L435.4,98.6 L435.7,98.6 L436.0,98.7 L436.3,100.4 L436.6,99.6 L436.9,100.3 L437.2,96.5 L437.5,100.1 L437.8,103.8 L438.1,98.2 L438.4,99.1 L438.7,101.4 L439.0,101.7 L439.3,101.2 L439.6,96.7 L439.9,101.5 L440.2,98.2 L440.5,99.2 L440.8,102.4 L441.1,100.9 L441.4,103.4 L441.7,108.5 L442.0,103.6 L442.3,103.5 L442.6,100.2 L442.9,100.7 L443.2,99.8 L443.5,100.9 L443.8,99.6 L444.1,100.5 L444.4,101.4 L444.7,99.8 L445.0,98.9 L445.3,99.1 L445.6,103.0 L445.9,102.2 L446.2,104.4 L446.5,104.6 L446.8,101.8 L447.1,104.2 L447.4,99.9 L447.7,108.0 L448.0,105.9 L448.3,103.1 L448.6,101.2 L448.9,104.6 L449.2,99.9 L449.5,102.2 L449.8,105.4 L450.1,103.9 L450.4,102.7 L450.7,105.7 L451.0,101.5 L451.3,104.4 L451.6,102.9 L451.9,102.5 L452.2,105.6 L452.5,103.0 L452.8,109.5 L453.1,104.8 L453.4,110.7 L453.7,104.7 L454.0,108.8 L454.3,105.4 L454.6,105.4 L454.9,108.9 L455.2,110.2 L455.5,106.4 L455.8,111.8 L456.1,107.8 L456.4,110.0 L456.7,110.8 L457.0,111.6 L457.3,106.9 L457.6,114.4 L457.9,112.5 L458.2,110.8 L458.5,109.9 L458.8,108.8 L459.1,109.8 L459.4,114.0 L459.7,112.4 L460.0,111.0 L460.3,112.4 L460.6,117.0 L460.9,113.2 L461.2,112.9 L461.5,117.2 L461.8,115.5 L462.1,114.9 L462.4,113.7 L462.7,112.0 L463.0,113.0 L463.3,114.7 L463.6,115.5 L463.9,117.0 L464.2,117.6 L464.5,117.1 L464.8,117.3 L465.1,115.0 L465.4,112.8 L465.7,116.4 L466.0,115.7 L466.3,116.5 L466.6,117.6 L466.9,115.7 L467.2,116.3 L467.5,118.6 L467.8,119.4 L468.1,118.0 L468.4,120.7 L468.7,119.5 L469.0,118.2 L469.3,120.8 L469.6,125.0 L469.9,120.0 L470.2,124.2 L470.5,125.0 L470.8,125.5 L471.1,120.9 L471.4,127.1 L471.7,123.3 L472.0,122.6 L472.3,122.7 L472.6,124.4 L472.9,123.3 L473.2,122.8 L473.5,125.9 L473.8,121.7 L474.1,121.2 L474.4,125.2 L474.7,125.3 L475.0,126.4 L475.3,122.1 L475.6,126.9 L475.9,126.0 L476.2,129.0 L476.5,122.9 L476.8,126.1 L477.1,125.2 L477.4,122.6 L477.7,124.5 L478.0,128.4 L478.3,125.2 L478.6,124.8 L478.9,128.3 L479.2,128.8 L479.5,129.2 L479.8,125.8 L480.1,127.8 L480.4,130.5 L480.7,127.4 L481.0,127.7 L481.3,131.4 L481.6,133.3 L481.9,127.8 L482.2,125.0 L482.5,127.6 L482.8,128.6 L483.1,130.6 L483.4,132.2 L483.7,130.7 L484.0,129.6 L484.3,131.5 L484.6,129.3 L484.9,131.4 L485.2,130.2 L485.5,137.3 L485.8,133.6 L486.1,130.2 L486.4,129.9 L486.7,131.2 L487.0,128.6 L487.3,130.5 L487.6,130.5 L487.9,133.9 L488.2,131.1 L488.5,130.3 L488.8,129.2 L489.1,129.6 L489.4,132.0 L489.7,131.9 L490.0,134.9 L490.3,131.4 L490.6,135.1 L490.9,133.6 L491.2,133.2 L491.5,129.2 L491.8,130.8 L492.1,135.1 L492.4,136.5 L492.7,134.0 L493.0,135.1 L493.3,132.6 L493.6,132.7 L493.9,132.1 L494.2,135.5 L494.5,134.2 L494.8,133.0 L495.1,132.9 L495.4,134.8 L495.7,134.4 L496.0,132.0 L496.3,137.4 L496.6,134.3 L496.9,133.8 L497.2,136.9 L497.5,135.9 L497.8,133.6 L498.1,134.8 L498.4,131.4 L498.7,132.3 L499.0,128.9 L499.3,136.2 L499.6,129.7 L499.9,135.1 L500.2,132.0 L500.5,131.7 L500.8,133.3 L501.1,134.2 L501.4,134.9 L501.7,137.3 L502.0,134.1 L502.3,135.1 L502.6,131.8 L502.9,134.4 L503.2,133.0 L503.5,131.6 L503.8,132.2 L504.1,132.2 L504.4,132.7 L504.7,133.1 L505.0,131.2 L505.3,130.8 L505.6,134.0 L505.9,129.0 L506.2,131.3 L506.5,135.9 L506.8,127.0 L507.1,131.2 L507.4,134.1 L507.7,129.1 L508.0,138.0 L508.3,127.0 L508.6,135.3 L508.9,135.5 L509.2,134.0 L509.5,131.6 L509.8,132.7 L510.1,130.0 L510.4,133.5 L510.7,129.4 L511.0,131.2 L511.3,133.8 L511.6,129.4 L511.9,130.9 L512.2,132.1 L512.5,128.9 L512.8,134.2 L513.1,132.5 L513.4,128.6 L513.7,131.7 L514.0,130.1 L514.3,130.3 L514.6,131.8 L514.9,130.1 L515.2,133.6 L515.5,130.1 L515.8,133.6 L516.1,131.4 L516.4,133.4 L516.7,130.5 L517.0,130.8 L517.3,129.6 L517.6,133.4 L517.9,134.4 L518.2,137.2 L518.5,135.7 L518.8,133.7 L519.1,132.9 L519.4,134.3 L519.7,133.5 L520.0,136.7 L520.3,135.7 L520.6,132.1 L520.9,132.4 L521.2,136.8 L521.5,134.7 L521.8,133.7 L522.1,136.8 L522.4,133.7 L522.7,134.1 L523.0,134.0 L523.3,131.0 L523.6,137.1 L523.9,133.0 L524.2,134.5 L524.5,134.2 L524.8,137.4 L525.1,135.9 L525.4,136.1 L525.7,132.6 L526.0,136.0 L526.3,133.1 L526.6,136.9 L526.9,137.0 L527.2,136.2 L527.5,140.5 L527.8,137.3 L528.1,137.4 L528.4,136.5 L528.7,135.9 L529.0,138.5 L529.3,139.0 L529.6,134.2 L529.9,139.5 L530.2,138.7 L530.5,139.9 L530.8,139.2 L531.1,135.8 L531.4,136.2 L531.7,142.5 L532.0,139.3 L532.3,135.7 L532.6,139.3 L532.9,137.7 L533.2,134.4 L533.5,133.4 L533.8,134.7 L534.1,138.6 L534.4,138.0 L534.7,137.7 L535.0,139.0 L535.3,139.9 L535.6,134.4 L535.9,138.5 L536.2,137.6 L536.5,136.9 L536.8,138.5 L537.1,139.6 L537.4,139.4 L537.7,136.9 L538.0,139.0 L538.3,144.2 L538.6,137.7 L538.9,136.3 L539.2,140.4 L539.5,140.9 L539.8,140.5 L540.1,137.1 L540.4,141.4 L540.7,137.5 L541.0,136.7 L541.3,137.7 L541.6,138.7 L541.9,140.5 L542.2,140.3 L542.5,139.0 L542.8,141.1 L543.1,139.5 L543.4,141.3 L543.7,136.6 L544.0,136.4 L544.3,141.4 L544.6,136.9 L544.9,139.3 L545.2,139.8 L545.5,139.1 L545.8,139.2 L546.1,143.1 L546.4,134.9 L546.7,142.1 L547.0,145.1 L547.3,140.4 L547.6,140.3 L547.9,141.9 L548.2,144.2 L548.5,137.9 L548.8,140.5 L549.1,139.9 L549.4,141.4 L549.7,140.6 L550.0,141.6 L550.3,139.3 L550.6,140.2 L550.9,138.7 L551.2,138.8 L551.5,140.0 L551.8,140.1 L552.1,138.1 L552.4,144.0 L552.7,140.7 L553.0,138.2 L553.3,143.6 L553.6,139.9 L553.9,142.7 L554.2,141.6 L554.5,142.2 L554.8,142.0 L555.1,140.4 L555.4,141.6 L555.7,145.7 L556.0,136.6 L556.3,141.4 L556.6,142.2 L556.9,139.0 L557.2,138.4 L557.5,145.9 L557.8,140.7 L558.1,145.9 L558.4,142.8 L558.7,141.9 L559.0,142.7 L559.3,143.1 L559.6,144.2 L559.9,142.6 L560.2,141.9 L560.5,141.9 L560.8,144.3 L561.1,143.1 L561.4,139.3 L561.7,140.0 L562.0,142.1 L562.3,140.2 L562.6,140.8 L562.9,139.6 L563.2,141.2 L563.5,142.7 L563.8,143.9 L564.1,141.9 L564.4,146.2 L564.7,141.6 L565.0,148.4 L565.3,143.7 L565.6,142.6 L565.9,140.4 L566.2,135.4 L566.5,141.0 L566.8,141.7 L567.1,145.3 L567.4,138.4 L567.7,145.4 L568.0,140.9 L568.3,143.1 L568.6,136.3 L568.9,142.0 L569.2,141.1 L569.5,143.4 L569.8,142.2 L570.1,139.7 L570.4,144.1 L570.7,143.6 L571.0,143.5 L571.3,144.3 L571.6,144.6 L571.9,142.2 L572.2,139.4 L572.5,139.3 L572.8,145.0 L573.1,143.6 L573.4,142.3 L573.7,141.1 L574.0,142.1 L574.3,142.0 L574.6,141.3 L574.9,140.5 L575.2,146.5 L575.5,142.4 L575.8,140.6 L576.1,139.2 L576.4,140.3 L576.7,143.3 L577.0,143.4 L577.3,141.3 L577.6,141.8 L577.9,141.0 L578.2,139.3 L578.5,144.3 L578.8,142.4 L579.1,146.8 L579.4,140.1 L579.7,141.5 L580.0,143.8 L580.3,141.5 L580.6,139.2 L580.9,140.3 L581.2,142.6 L581.5,143.3 L581.8,142.4 L582.1,144.8 L582.4,144.9 L582.7,143.5 L583.0,142.9 L583.3,142.3 L583.6,144.0 L583.9,144.8 L584.2,143.0 L584.5,143.8 L584.8,142.2 L585.1,139.9 L585.4,140.7 L585.7,144.4 L586.0,143.7 L586.3,146.1 L586.6,142.8 L586.9,144.5 L587.2,145.4 L587.5,144.7 L587.8,141.3 L588.1,142.2 L588.4,142.8 L588.7,140.5 L589.0,143.6 L589.3,144.8 L589.6,141.7 L589.9,146.9 L590.2,142.2 L590.5,142.5 L590.8,142.6 L591.1,141.7 L591.4,144.3 L591.7,143.6 L592.0,147.3 L592.3,145.3 L592.6,145.4 L592.9,144.0 L593.2,141.6 L593.5,144.5 L593.8,143.0 L594.1,146.8 L594.4,144.6 L594.7,148.0 L595.0,145.9 L595.3,145.8 L595.6,144.3 L595.9,144.0 L596.2,144.8 L596.5,145.2 L596.8,141.6 L597.1,144.1 L597.4,148.6 L597.7,142.9 L598.0,142.6 L598.3,141.8 L598.6,140.4 L598.9,146.0 L599.2,143.8 L599.5,144.4 L599.8,147.7 L600.1,149.2 L600.4,142.1 L600.7,146.2 L601.0,145.3 L601.3,144.7 L601.6,144.7 L601.9,143.4 L602.2,146.6 L602.5,144.3 L602.8,143.4 L603.1,145.0 L603.4,144.1 L603.7,143.0 L604.0,142.7 L604.3,145.7 L604.6,143.2 L604.9,142.2 L605.2,140.8 L605.5,142.2 L605.8,141.0 L606.1,143.6 L606.4,144.1 L606.7,139.4 L607.0,143.8 L607.3,145.1 L607.6,144.0 L607.9,141.5 L608.2,146.1 L608.5,141.9 L608.8,140.7 L609.1,141.0 L609.4,143.3 L609.7,145.6 L610.0,146.1 L610.3,144.4 L610.6,141.6 L610.9,143.0 L611.2,142.6 L611.5,144.3 L611.8,141.0 L612.1,144.9 L612.4,146.0 L612.7,144.2 L613.0,145.3 L613.3,142.2 L613.6,141.0 L613.9,142.6 L614.2,146.2 L614.5,145.9 L614.8,142.7 L615.1,146.1 L615.4,142.9 L615.7,146.8 L616.0,144.6 L616.3,142.7 L616.6,145.4 L616.9,142.1 L617.2,141.8 L617.5,140.8 L617.8,144.5 L618.1,143.9 L618.4,143.9 L618.7,143.3 L619.0,147.2 L619.3,143.4 L619.6,142.9 L619.9,147.1 L620.2,147.5 L620.5,145.3 L620.8,141.0 L621.1,143.4 L621.4,146.0 L621.7,144.7 L622.0,147.9 L622.3,141.8 L622.6,146.0 L622.9,143.3 L623.2,147.3 L623.5,144.4 L623.8,146.7 L624.1,143.2 L624.4,141.6 L624.7,142.3 L625.0,143.5 L625.3,142.7 L625.6,147.4 L625.9,147.8 L626.2,145.6 L626.5,142.9 L626.8,144.8 L627.1,143.6 L627.4,148.1 L627.7,145.6 L628.0,145.9 L628.3,143.9 L628.6,140.5 L628.9,143.0" stroke="#f00" stroke-width="0.9"/>
</g>
<rect x="369" y="3.2" width="260" height="207.8" fill="none" stroke="#000" stroke-width="1.75"/>
<path d="M369.0,211 V207.2 M390.7,211 V209 M412.3,211 V207.2 M434.0,211 V209 M455.7,211 V207.2 M477.3,211 V209 M499.0,211 V207.2 M520.7,211 V209 M542.3,211 V207.2 M564.0,211 V209 M585.7,211 V207.2 M607.3,211 V209 M629.0,211 V207.2" stroke="#000" stroke-width="1.5"/>
<text x="369.0" y="225.3" font-size="12.5" text-anchor="middle">10</text>
<text x="412.3" y="225.3" font-size="12.5" text-anchor="middle">20</text>
<text x="455.7" y="225.3" font-size="12.5" text-anchor="middle">30</text>
<text x="499.0" y="225.3" font-size="12.5" text-anchor="middle">40</text>
<text x="542.3" y="225.3" font-size="12.5" text-anchor="middle">50</text>
<text x="585.7" y="225.3" font-size="12.5" text-anchor="middle">60</text>
<text x="629.0" y="225.3" font-size="12.5" text-anchor="middle">70</text>
<text x="328" y="18.7" font-size="21">B</text>
<text transform="translate(354,108.5) rotate(-90)" font-size="16.2" text-anchor="middle">Intensity (a.u.)</text>
<text x="497.8" y="243.4" font-size="15.4" text-anchor="middle">2 Theta (degree)</text>
<path d="M560.7,30.1 H586.4" stroke="#333" stroke-width="2.4"/>
<path d="M560.7,47 H586.4" stroke="#f00" stroke-width="2.4"/>
<text transform="translate(590,33.8) scale(1,1.13)" font-size="11.3">MPC-c</text>
<text transform="translate(590,50.3) scale(1,1.13)" font-size="11.3">MPC</text>
<g clip-path="url(#cC)">
<path d="M76.1,456.7 L76.4,453.2 L78.0,450.6 L81.0,448.3 L86.4,445.2 L91.8,443.7 L97.2,442.3 L102.4,441.6 L107.8,441.2 L113.1,440.8 L118.6,440.3 L123.9,440.0 L129.1,439.8 L134.6,439.5 L140.1,439.2 L145.6,438.8 L150.7,438.4 L156.2,438.3 L161.5,438.2 L166.8,438.0 L172.1,437.9 L177.4,437.8 L182.9,437.6 L188.2,437.5 L193.5,437.2 L198.7,437.0 L204.0,436.7 L209.3,436.5 L214.7,436.3 L220.2,436.1 L225.7,435.9 L230.9,435.8 L236.4,435.6 L241.7,435.4 L247.0,435.2 L252.4,435.1 L257.5,434.8 L263.0,434.4 L268.5,434.1 L273.6,433.3 L279.1,432.1 L284.3,429.2 L288.5,423.2" fill="none" stroke="#000" stroke-width="1.2"/>
<g fill="url(#gk)"><circle cx="76.1" cy="456.7" r="3.35"/><circle cx="76.4" cy="453.2" r="3.35"/><circle cx="78.0" cy="450.6" r="3.35"/><circle cx="81.0" cy="448.3" r="3.35"/><circle cx="86.4" cy="445.2" r="3.35"/><circle cx="91.8" cy="443.7" r="3.35"/><circle cx="97.2" cy="442.3" r="3.35"/><circle cx="102.4" cy="441.6" r="3.35"/><circle cx="107.8" cy="441.2" r="3.35"/><circle cx="113.1" cy="440.8" r="3.35"/><circle cx="118.6" cy="440.3" r="3.35"/><circle cx="123.9" cy="440.0" r="3.35"/><circle cx="129.1" cy="439.8" r="3.35"/><circle cx="134.6" cy="439.5" r="3.35"/><circle cx="140.1" cy="439.2" r="3.35"/><circle cx="145.6" cy="438.8" r="3.35"/><circle cx="150.7" cy="438.4" r="3.35"/><circle cx="156.2" cy="438.3" r="3.35"/><circle cx="161.5" cy="438.2" r="3.35"/><circle cx="166.8" cy="438.0" r="3.35"/><circle cx="172.1" cy="437.9" r="3.35"/><circle cx="177.4" cy="437.8" r="3.35"/><circle cx="182.9" cy="437.6" r="3.35"/><circle cx="188.2" cy="437.5" r="3.35"/><circle cx="193.5" cy="437.2" r="3.35"/><circle cx="198.7" cy="437.0" r="3.35"/><circle cx="204.0" cy="436.7" r="3.35"/><circle cx="209.3" cy="436.5" r="3.35"/><circle cx="214.7" cy="436.3" r="3.35"/><circle cx="220.2" cy="436.1" r="3.35"/><circle cx="225.7" cy="435.9" r="3.35"/><circle cx="230.9" cy="435.8" r="3.35"/><circle cx="236.4" cy="435.6" r="3.35"/><circle cx="241.7" cy="435.4" r="3.35"/><circle cx="247.0" cy="435.2" r="3.35"/><circle cx="252.4" cy="435.1" r="3.35"/><circle cx="257.5" cy="434.8" r="3.35"/><circle cx="263.0" cy="434.4" r="3.35"/><circle cx="268.5" cy="434.1" r="3.35"/><circle cx="273.6" cy="433.3" r="3.35"/><circle cx="279.1" cy="432.1" r="3.35"/><circle cx="284.3" cy="429.2" r="3.35"/><circle cx="288.5" cy="423.2" r="3.35"/><circle cx="284.9" cy="431.4" r="3.35"/><circle cx="279.9" cy="433.2" r="3.35"/></g>
<path d="M74.7,448.4 L75.5,443.0 L76.2,439.9 L77.0,437.6 L80.4,432.9 L85.6,428.5 L91.3,425.3 L97.0,422.1 L102.5,419.5 L108.0,417.4 L113.5,415.4 L118.5,413.5 L123.7,412.2 L129.2,410.7 L134.7,409.1 L140.2,407.5 L145.7,406.0 L150.8,404.5 L155.9,403.3 L161.1,401.7 L166.6,399.7 L172.1,398.6 L177.6,397.5 L183.1,396.2 L188.6,394.6 L194.1,393.1 L199.6,391.2 L205.1,389.9 L210.5,388.4 L216.0,386.8 L221.5,385.5 L227.0,383.7 L232.5,382.1 L238.0,380.2 L243.1,378.6 L248.1,376.4 L252.6,374.3 L257.6,369.6 L263.2,365.1 L268.3,359.5 L273.6,352.3 L278.3,346.1 L283.9,341.3 L288.3,335.7" fill="none" stroke="#f00" stroke-width="1.2"/>
<path d="M288.3,335.7 L283.4,338.2 L278.1,339.8 L272.9,342.7 L268.1,345.9 L262.8,349.9 L257.4,355.1 L252.4,360.7 L247.0,366.0 L241.6,370.3 L236.2,373.8 L230.9,376.4 L226.3,377.9 L221.5,379.7 L216.0,381.3 L210.5,382.9 L205.1,384.4 L199.6,385.7 L194.1,386.8 L188.6,388.4 L183.1,389.9 L177.6,391.5 L172.1,394.6" fill="none" stroke="#f00" stroke-width="1.2"/>
<g fill="url(#gr)"><circle cx="74.7" cy="448.4" r="3.35"/><circle cx="75.5" cy="443.0" r="3.35"/><circle cx="76.2" cy="439.9" r="3.35"/><circle cx="77.0" cy="437.6" r="3.35"/><circle cx="80.4" cy="432.9" r="3.35"/><circle cx="85.6" cy="428.5" r="3.35"/><circle cx="91.3" cy="425.3" r="3.35"/><circle cx="97.0" cy="422.1" r="3.35"/><circle cx="102.5" cy="419.5" r="3.35"/><circle cx="108.0" cy="417.4" r="3.35"/><circle cx="113.5" cy="415.4" r="3.35"/><circle cx="118.5" cy="413.5" r="3.35"/><circle cx="123.7" cy="412.2" r="3.35"/><circle cx="129.2" cy="410.7" r="3.35"/><circle cx="134.7" cy="409.1" r="3.35"/><circle cx="140.2" cy="407.5" r="3.35"/><circle cx="145.7" cy="406.0" r="3.35"/><circle cx="150.8" cy="404.5" r="3.35"/><circle cx="155.9" cy="403.3" r="3.35"/><circle cx="161.1" cy="401.7" r="3.35"/><circle cx="166.6" cy="399.7" r="3.35"/><circle cx="172.1" cy="398.6" r="3.35"/><circle cx="177.6" cy="397.5" r="3.35"/><circle cx="183.1" cy="396.2" r="3.35"/><circle cx="188.6" cy="394.6" r="3.35"/><circle cx="194.1" cy="393.1" r="3.35"/><circle cx="199.6" cy="391.2" r="3.35"/><circle cx="205.1" cy="389.9" r="3.35"/><circle cx="210.5" cy="388.4" r="3.35"/><circle cx="216.0" cy="386.8" r="3.35"/><circle cx="221.5" cy="385.5" r="3.35"/><circle cx="227.0" cy="383.7" r="3.35"/><circle cx="232.5" cy="382.1" r="3.35"/><circle cx="238.0" cy="380.2" r="3.35"/><circle cx="243.1" cy="378.6" r="3.35"/><circle cx="248.1" cy="376.4" r="3.35"/><circle cx="252.6" cy="374.3" r="3.35"/><circle cx="257.6" cy="369.6" r="3.35"/><circle cx="263.2" cy="365.1" r="3.35"/><circle cx="268.3" cy="359.5" r="3.35"/><circle cx="273.6" cy="352.3" r="3.35"/><circle cx="278.3" cy="346.1" r="3.35"/><circle cx="283.9" cy="341.3" r="3.35"/><circle cx="288.3" cy="335.7" r="3.35"/><circle cx="283.4" cy="338.2" r="3.35"/><circle cx="278.1" cy="339.8" r="3.35"/><circle cx="272.9" cy="342.7" r="3.35"/><circle cx="268.1" cy="345.9" r="3.35"/><circle cx="262.8" cy="349.9" r="3.35"/><circle cx="257.4" cy="355.1" r="3.35"/><circle cx="252.4" cy="360.7" r="3.35"/><circle cx="247.0" cy="366.0" r="3.35"/><circle cx="241.6" cy="370.3" r="3.35"/><circle cx="236.2" cy="373.8" r="3.35"/><circle cx="230.9" cy="376.4" r="3.35"/><circle cx="226.3" cy="377.9" r="3.35"/><circle cx="221.5" cy="379.7" r="3.35"/><circle cx="216.0" cy="381.3" r="3.35"/><circle cx="210.5" cy="382.9" r="3.35"/><circle cx="205.1" cy="384.4" r="3.35"/><circle cx="199.6" cy="385.7" r="3.35"/><circle cx="194.1" cy="386.8" r="3.35"/><circle cx="188.6" cy="388.4" r="3.35"/><circle cx="183.1" cy="389.9" r="3.35"/><circle cx="177.6" cy="391.5" r="3.35"/><circle cx="172.1" cy="394.6" r="3.35"/></g>
</g>
<rect x="54.8" y="273" width="256.2" height="207.7" fill="none" stroke="#000" stroke-width="1.75"/>
<path d="M75.8,480.7 V477.2 M97.2,480.7 V478.7 M118.6,480.7 V477.2 M140.0,480.7 V478.7 M161.4,480.7 V477.2 M182.8,480.7 V478.7 M204.3,480.7 V477.2 M225.7,480.7 V478.7 M247.1,480.7 V477.2 M268.5,480.7 V478.7 M289.9,480.7 V477.2 M54.8,454.3 H56.8 M54.8,428.4 H58.3 M54.8,402.5 H56.8 M54.8,376.6 H58.3 M54.8,350.7 H56.8 M54.8,324.8 H58.3 M54.8,298.9 H56.8" stroke="#000" stroke-width="1.5"/>
<text x="75.8" y="496.2" font-size="13.6" text-anchor="middle">0.0</text>
<text x="118.6" y="496.2" font-size="13.6" text-anchor="middle">0.2</text>
<text x="161.4" y="496.2" font-size="13.6" text-anchor="middle">0.4</text>
<text x="204.3" y="496.2" font-size="13.6" text-anchor="middle">0.6</text>
<text x="247.1" y="496.2" font-size="13.6" text-anchor="middle">0.8</text>
<text x="289.9" y="496.2" font-size="13.6" text-anchor="middle">1.0</text>
<text x="49.8" y="485.2" font-size="13.6" text-anchor="end">0</text>
<text x="49.8" y="433.4" font-size="13.6" text-anchor="end">500</text>
<text x="49.8" y="381.6" font-size="13.6" text-anchor="end">1000</text>
<text x="49.8" y="329.8" font-size="13.6" text-anchor="end">1500</text>
<text x="49.8" y="278.0" font-size="13.6" text-anchor="end">2000</text>
<text x="1.3" y="292.6" font-size="21">C</text>
<text transform="translate(16.3,459.1) rotate(-90)" font-size="17.5">Volume / (cm<tspan dy="-6.5" font-size="11.5">3</tspan><tspan dy="6.5"> g</tspan><tspan dy="-6.5" font-size="11.5">-1</tspan><tspan dy="6.5" dx="4">)</tspan></text>
<text x="84.4" y="515.4" font-size="17.6">Relative Pressure (P/P<tspan dy="5" font-size="12">0</tspan><tspan dy="-5">)</tspan></text>
<path d="M241.9,301.9 H266.4" stroke="#000" stroke-width="1.6"/>
<path d="M241.9,316.8 H266.4" stroke="#f00" stroke-width="1.6"/>
<circle cx="254.2" cy="301.9" r="3.1" fill="url(#gk)"/><circle cx="254.2" cy="316.8" r="3.1" fill="url(#gr)"/>
<text transform="translate(270.2,305.4) scale(1,1.13)" font-size="11.3">MPC-c</text>
<text transform="translate(270.2,320.6) scale(1,1.13)" font-size="11.3">MPC</text>
<g clip-path="url(#cD)">
<path d="M385.2,452.0 L385.7,409.8 L387.3,416.7 L389.1,428.5 L390.5,436.2 L391.0,445.3 L391.9,448.2 L392.9,451.5 L393.9,453.9 L394.3,458.2 L395.8,460.1 L397.2,461.6 L399.1,464.9 L399.1,468.3 L400.2,464.3 L402.6,465.3 L403.5,468.2 L405.9,465.3 L408.3,466.3 L411.2,459.5 L411.7,467.2 L413.6,468.7 L416.5,469.1 L419.3,469.6 L422.0,470.3 L427.5,470.3 L432.5,471.4 L437.4,472.5 L442.9,475.6 L448.8,472.5 L456.7,472.3 L465.5,473.2 L476.5,472.7 L489.7,473.0 L507.0,472.5 L531.4,473.0 L567.0,472.1 L620.8,470.8 L660.0,470.0" fill="none" stroke="#000" stroke-width="1.5"/>
<g fill="url(#gk)"><circle cx="385.2" cy="452.0" r="3.15"/><circle cx="385.7" cy="409.8" r="3.15"/><circle cx="387.3" cy="416.7" r="3.15"/><circle cx="389.1" cy="428.5" r="3.15"/><circle cx="390.5" cy="436.2" r="3.15"/><circle cx="391.0" cy="445.3" r="3.15"/><circle cx="391.9" cy="448.2" r="3.15"/><circle cx="392.9" cy="451.5" r="3.15"/><circle cx="393.9" cy="453.9" r="3.15"/><circle cx="394.3" cy="458.2" r="3.15"/><circle cx="395.8" cy="460.1" r="3.15"/><circle cx="397.2" cy="461.6" r="3.15"/><circle cx="399.1" cy="464.9" r="3.15"/><circle cx="399.1" cy="468.3" r="3.15"/><circle cx="400.2" cy="464.3" r="3.15"/><circle cx="402.6" cy="465.3" r="3.15"/><circle cx="403.5" cy="468.2" r="3.15"/><circle cx="405.9" cy="465.3" r="3.15"/><circle cx="408.3" cy="466.3" r="3.15"/><circle cx="411.2" cy="459.5" r="3.15"/><circle cx="411.7" cy="467.2" r="3.15"/><circle cx="413.6" cy="468.7" r="3.15"/><circle cx="416.5" cy="469.1" r="3.15"/><circle cx="419.3" cy="469.6" r="3.15"/><circle cx="422.0" cy="470.3" r="3.15"/><circle cx="427.5" cy="470.3" r="3.15"/><circle cx="432.5" cy="471.4" r="3.15"/><circle cx="437.4" cy="472.5" r="3.15"/><circle cx="442.9" cy="475.6" r="3.15"/><circle cx="448.8" cy="472.5" r="3.15"/><circle cx="456.7" cy="472.3" r="3.15"/><circle cx="465.5" cy="473.2" r="3.15"/><circle cx="476.5" cy="472.7" r="3.15"/><circle cx="489.7" cy="473.0" r="3.15"/><circle cx="507.0" cy="472.5" r="3.15"/><circle cx="531.4" cy="473.0" r="3.15"/><circle cx="567.0" cy="472.1" r="3.15"/><circle cx="620.8" cy="470.8" r="3.15"/></g>
<path d="M387.1,404.4 L388.2,405.5 L389.7,407.8 L391.4,413.3 L392.8,415.0 L394.6,425.1 L395.7,415.9 L398.3,419.9 L400.0,420.8 L400.3,421.9 L402.0,420.2 L404.3,416.4 L406.9,376.2 L409.0,292.0 L411.4,290.6 L413.0,414.6 L415.6,428.2 L418.5,431.2 L421.7,436.8 L424.7,433.1 L428.5,435.0 L432.6,429.7 L437.3,429.7 L442.4,433.4 L449.0,424.0 L456.1,418.8 L465.6,411.8 L476.9,393.3 L490.0,380.3 L506.6,386.0 L530.6,419.3 L565.5,438.5 L617.9,454.5 L660.0,460.0" fill="none" stroke="#f00" stroke-width="1.5"/>
<g fill="url(#gr)"><circle cx="387.1" cy="404.4" r="3.15"/><circle cx="388.2" cy="405.5" r="3.15"/><circle cx="389.7" cy="407.8" r="3.15"/><circle cx="391.4" cy="413.3" r="3.15"/><circle cx="392.8" cy="415.0" r="3.15"/><circle cx="394.6" cy="425.1" r="3.15"/><circle cx="395.7" cy="415.9" r="3.15"/><circle cx="398.3" cy="419.9" r="3.15"/><circle cx="400.0" cy="420.8" r="3.15"/><circle cx="400.3" cy="421.9" r="3.15"/><circle cx="402.0" cy="420.2" r="3.15"/><circle cx="404.3" cy="416.4" r="3.15"/><circle cx="406.9" cy="376.2" r="3.15"/><circle cx="409.0" cy="292.0" r="3.15"/><circle cx="411.4" cy="290.6" r="3.15"/><circle cx="413.0" cy="414.6" r="3.15"/><circle cx="415.6" cy="428.2" r="3.15"/><circle cx="418.5" cy="431.2" r="3.15"/><circle cx="421.7" cy="436.8" r="3.15"/><circle cx="424.7" cy="433.1" r="3.15"/><circle cx="428.5" cy="435.0" r="3.15"/><circle cx="432.6" cy="429.7" r="3.15"/><circle cx="437.3" cy="429.7" r="3.15"/><circle cx="442.4" cy="433.4" r="3.15"/><circle cx="449.0" cy="424.0" r="3.15"/><circle cx="456.1" cy="418.8" r="3.15"/><circle cx="465.6" cy="411.8" r="3.15"/><circle cx="476.9" cy="393.3" r="3.15"/><circle cx="490.0" cy="380.3" r="3.15"/><circle cx="506.6" cy="386.0" r="3.15"/><circle cx="530.6" cy="419.3" r="3.15"/><circle cx="565.5" cy="438.5" r="3.15"/><circle cx="617.9" cy="454.5" r="3.15"/></g>
</g>
<rect x="373" y="273.3" width="256.8" height="207.5" fill="none" stroke="#000" stroke-width="1.75"/>
<path d="M372.8,480.8 V477.3 M398.5,480.8 V478.8 M424.2,480.8 V477.3 M449.9,480.8 V478.8 M475.6,480.8 V477.3 M501.3,480.8 V478.8 M527.0,480.8 V477.3 M552.7,480.8 V478.8 M578.4,480.8 V477.3 M604.1,480.8 V478.8 M629.8,480.8 V477.3 M373,453.8 H375 M373,431.2 H376.5 M373,408.7 H375 M373,386.1 H376.5 M373,363.6 H375 M373,341.0 H376.5 M373,318.5 H375 M373,295.9 H376.5 M373,273.4 H375 M373,476.3 H376.5" stroke="#000" stroke-width="1.5"/>
<text x="372.8" y="496.1" font-size="13.6" text-anchor="middle">0</text>
<text x="424.2" y="496.1" font-size="13.6" text-anchor="middle">5</text>
<text x="475.6" y="496.1" font-size="13.6" text-anchor="middle">10</text>
<text x="527.0" y="496.1" font-size="13.6" text-anchor="middle">15</text>
<text x="578.4" y="496.1" font-size="13.6" text-anchor="middle">20</text>
<text x="629.8" y="496.1" font-size="13.6" text-anchor="middle">25</text>
<text x="369" y="481.3" font-size="13.6" text-anchor="end">0</text>
<text x="369" y="436.2" font-size="13.6" text-anchor="end">1</text>
<text x="369" y="391.1" font-size="13.6" text-anchor="end">2</text>
<text x="369" y="346.0" font-size="13.6" text-anchor="end">3</text>
<text x="369" y="300.9" font-size="13.6" text-anchor="end">4</text>
<text x="327.2" y="291.8" font-size="21">D</text>
<text transform="translate(359.2,448.4) rotate(-90)" font-size="17.5">dV/dlogD (cm<tspan dy="-6.5" font-size="11.5">3</tspan><tspan dy="6.5">/g)</tspan></text>
<text x="430.2" y="515.9" font-size="17.6">Pore Diameter (nm)</text>
<path d="M561.3,301.9 H585.8" stroke="#000" stroke-width="1.6"/>
<path d="M561.3,317 H585.8" stroke="#f00" stroke-width="1.6"/>
<circle cx="573.6" cy="301.9" r="3.1" fill="url(#gk)"/><circle cx="573.6" cy="317" r="3.1" fill="url(#gr)"/>
<text transform="translate(590.5,305.4) scale(1,1.13)" font-size="11.3">MPC-c</text>
<text transform="translate(590.5,320.9) scale(1,1.13)" font-size="11.3">MPC</text>
</svg></body></html>
